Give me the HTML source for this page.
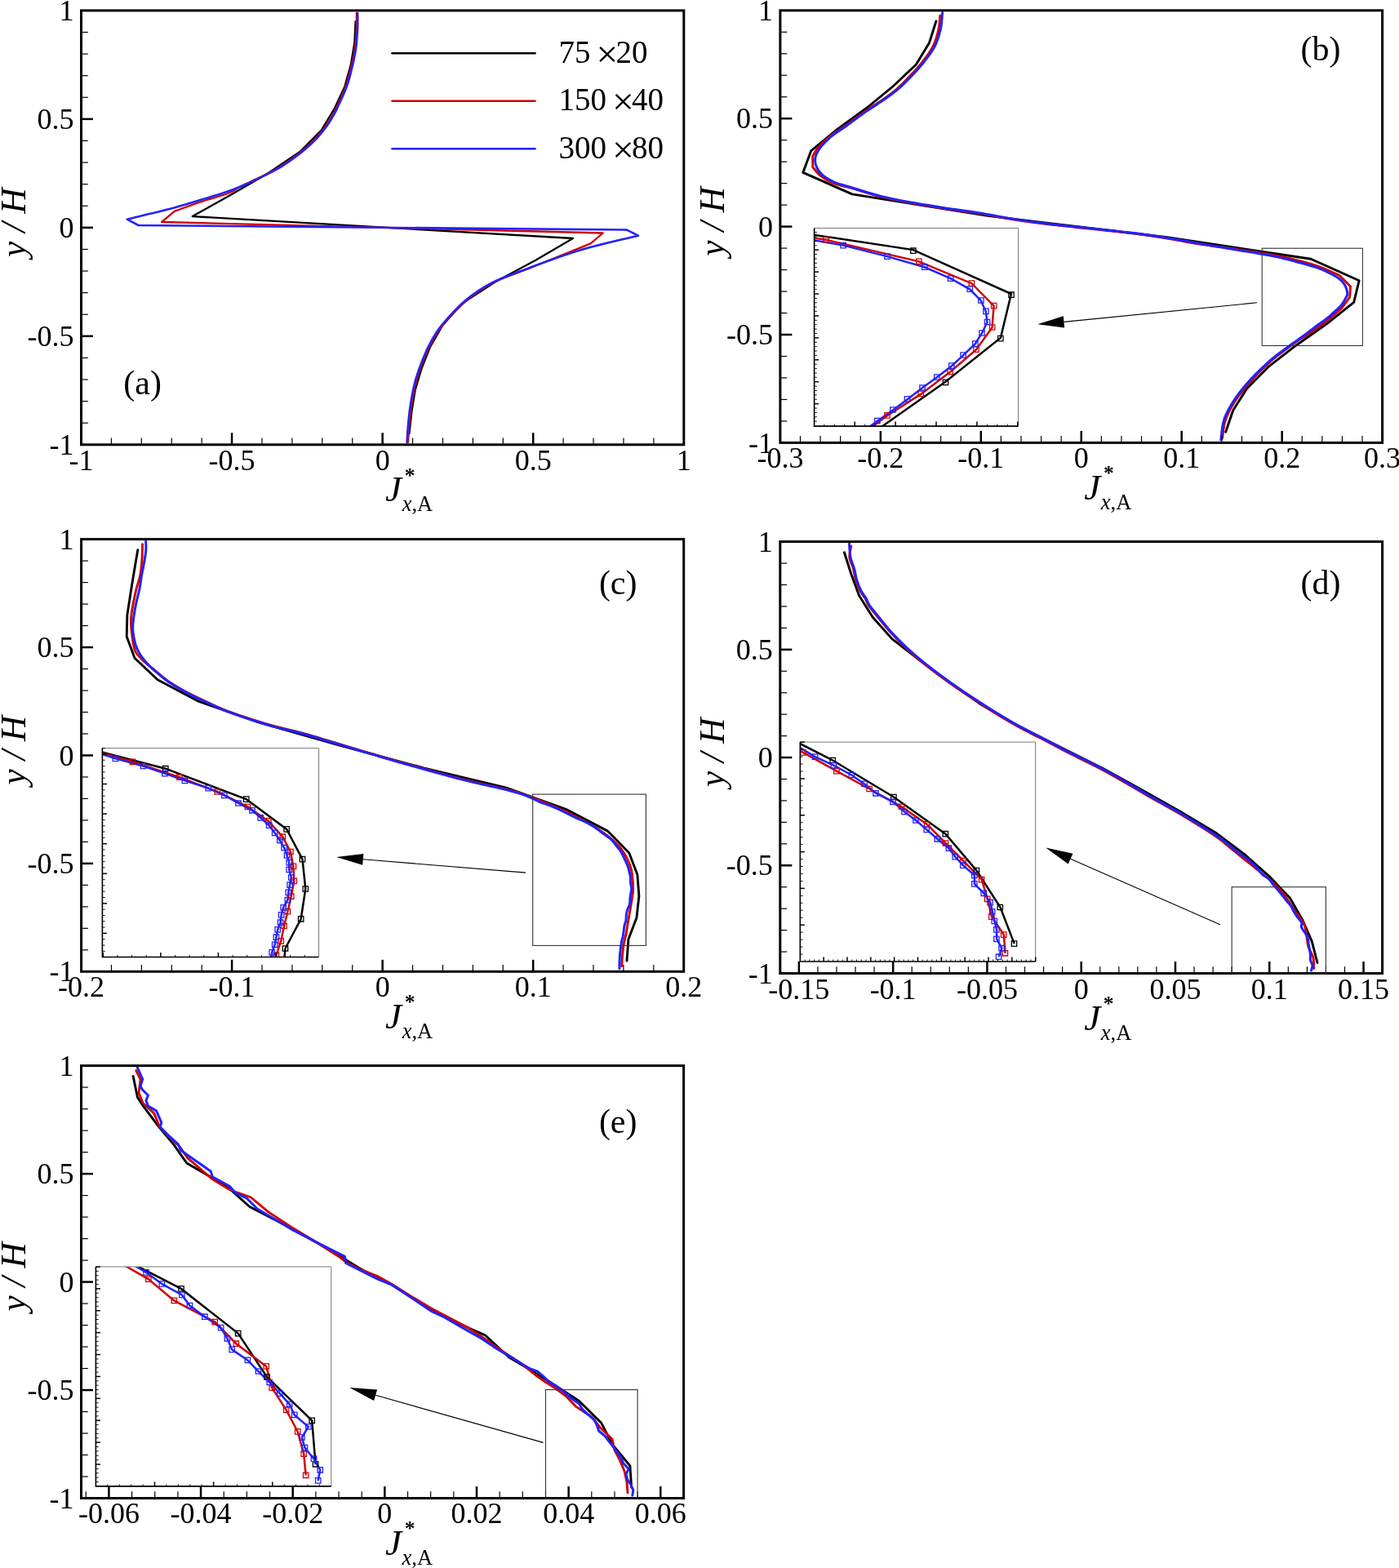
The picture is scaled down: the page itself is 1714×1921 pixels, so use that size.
<!DOCTYPE html><html><head><meta charset="utf-8"><title>Figure</title><style>html,body{margin:0;padding:0;background:#fff;}svg{display:block;}text{font-family:"Liberation Serif", "Times New Roman", serif;fill:#000;}</style></head><body>
<svg width="1714" height="1921" viewBox="0 0 1714 1921">
<rect width="1714" height="1921" fill="#fff"/>
<path d="M435.6,26.2 L434.3,52.8 L429.8,79.4 L422.4,105.9 L410.0,132.5 L394.0,159.2 L367.7,185.8 L328.0,212.4 L282.3,239.0 L235.8,265.1 L702.0,292.0 L656.3,318.7 L607.0,345.3 L566.0,371.9 L542.3,398.5 L527.0,425.1 L516.4,451.7 L508.6,478.3 L504.3,504.9 L501.4,531.5" fill="none" stroke="#000000" stroke-width="2.30" stroke-linejoin="round" stroke-linecap="round"/>
<path d="M436.9,16.0 C436.9,18.5 437.0,26.2 436.9,31.0 C436.8,35.8 436.5,40.3 436.2,45.0 C435.9,49.7 435.4,54.3 434.8,59.0 C434.2,63.7 433.3,68.3 432.3,73.0 C431.3,77.7 430.2,82.3 429.0,87.0 C427.8,91.7 426.6,96.7 425.2,101.0 C423.8,105.3 422.0,109.7 420.7,113.0 C419.4,116.3 418.4,118.3 417.2,121.0 C416.0,123.7 414.6,126.5 413.4,129.0 C412.2,131.6 412.3,132.4 410.1,136.3 C407.9,140.2 404.1,147.2 400.3,152.7 C396.5,158.1 392.6,163.3 387.2,169.0 C381.8,174.7 374.7,181.3 367.6,187.0 C360.5,192.7 352.6,198.4 344.7,203.3 C336.8,208.2 328.4,212.3 320.2,216.4 C312.0,220.5 302.3,224.5 295.7,227.8 C289.1,231.2 288.6,233.4 280.7,236.5 C272.8,239.6 259.2,242.9 248.0,246.6 C236.8,250.3 219.4,256.8 213.7,258.9 L198.2,272.0 L738.7,285.5 L723.6,298.4 C710.9,303.5 667.2,321.1 647.3,329.1 C627.4,337.1 616.7,339.9 604.1,346.4 C591.5,352.9 582.0,359.3 571.7,368.0 C561.4,376.7 549.3,390.3 542.4,398.5 C535.5,406.7 534.1,410.0 530.1,417.2 C526.1,424.4 522.0,433.3 518.6,441.9 C515.2,450.4 512.1,459.6 509.7,468.5 C507.3,477.4 505.8,486.1 504.4,495.0 C503.0,503.9 502.0,513.8 501.3,521.6 C500.6,529.4 500.2,538.6 500.0,542.0" fill="none" stroke="#d00000" stroke-width="2.30" stroke-linejoin="round" stroke-linecap="round"/>
<path d="M438.2,16.0 C438.2,18.5 438.3,26.2 438.2,31.0 C438.1,35.8 437.9,40.3 437.5,45.0 C437.1,49.7 436.8,54.3 436.1,59.0 C435.5,63.7 434.6,68.3 433.6,73.0 C432.6,77.7 431.5,82.3 430.3,87.0 C429.1,91.7 427.9,96.7 426.5,101.0 C425.1,105.3 423.3,109.7 422.0,113.0 C420.7,116.3 419.7,118.3 418.5,121.0 C417.3,123.7 415.9,126.5 414.7,129.0 C413.5,131.6 413.6,132.4 411.4,136.3 C409.2,140.2 405.4,147.2 401.6,152.7 C397.8,158.1 393.9,163.3 388.5,169.0 C383.1,174.7 376.0,181.3 368.9,187.0 C361.8,192.7 353.9,198.4 346.0,203.3 C338.1,208.2 329.7,212.3 321.5,216.4 C313.3,220.5 305.2,224.4 297.0,227.8 C288.8,231.2 280.7,234.1 272.5,236.8 C264.3,239.5 257.5,241.3 248.0,244.2 C238.5,247.1 226.2,251.0 215.3,254.0 C204.4,257.0 192.6,259.7 182.7,262.1 C172.8,264.6 160.2,267.6 155.7,268.7 L169.6,276.0 L767.9,281.6 L781.9,288.7 C770.0,291.6 733.4,299.7 710.7,306.4 C688.0,313.1 663.9,322.4 645.9,329.1 C627.9,335.8 615.3,339.9 602.7,346.4 C590.1,352.9 580.6,359.3 570.3,368.0 C560.0,376.7 547.9,390.3 541.0,398.5 C534.1,406.7 532.7,410.0 528.7,417.2 C524.7,424.4 520.6,433.3 517.2,441.9 C513.8,450.4 510.7,459.6 508.3,468.5 C505.9,477.4 504.4,486.1 503.0,495.0 C501.6,503.9 500.6,513.8 499.9,521.6 C499.2,529.4 498.8,538.6 498.6,542.0" fill="none" stroke="#2222ff" stroke-width="2.60" stroke-linejoin="round" stroke-linecap="round"/>
<line x1="136.41" y1="544.80" x2="136.41" y2="536.50" stroke="#000" stroke-width="1.2"/><line x1="173.33" y1="544.80" x2="173.33" y2="536.50" stroke="#000" stroke-width="1.2"/><line x1="210.25" y1="544.80" x2="210.25" y2="536.50" stroke="#000" stroke-width="1.2"/><line x1="247.16" y1="544.80" x2="247.16" y2="536.50" stroke="#000" stroke-width="1.2"/><line x1="284.07" y1="544.80" x2="284.07" y2="530.30" stroke="#000" stroke-width="2.5"/><line x1="320.99" y1="544.80" x2="320.99" y2="536.50" stroke="#000" stroke-width="1.2"/><line x1="357.91" y1="544.80" x2="357.91" y2="536.50" stroke="#000" stroke-width="1.2"/><line x1="394.82" y1="544.80" x2="394.82" y2="536.50" stroke="#000" stroke-width="1.2"/><line x1="431.74" y1="544.80" x2="431.74" y2="536.50" stroke="#000" stroke-width="1.2"/><line x1="468.65" y1="544.80" x2="468.65" y2="530.30" stroke="#000" stroke-width="2.5"/><line x1="505.56" y1="544.80" x2="505.56" y2="536.50" stroke="#000" stroke-width="1.2"/><line x1="542.48" y1="544.80" x2="542.48" y2="536.50" stroke="#000" stroke-width="1.2"/><line x1="579.39" y1="544.80" x2="579.39" y2="536.50" stroke="#000" stroke-width="1.2"/><line x1="616.31" y1="544.80" x2="616.31" y2="536.50" stroke="#000" stroke-width="1.2"/><line x1="653.22" y1="544.80" x2="653.22" y2="530.30" stroke="#000" stroke-width="2.5"/><line x1="690.14" y1="544.80" x2="690.14" y2="536.50" stroke="#000" stroke-width="1.2"/><line x1="727.06" y1="544.80" x2="727.06" y2="536.50" stroke="#000" stroke-width="1.2"/><line x1="763.97" y1="544.80" x2="763.97" y2="536.50" stroke="#000" stroke-width="1.2"/><line x1="800.88" y1="544.80" x2="800.88" y2="536.50" stroke="#000" stroke-width="1.2"/><line x1="99.50" y1="518.20" x2="107.80" y2="518.20" stroke="#000" stroke-width="1.2"/><line x1="99.50" y1="491.61" x2="107.80" y2="491.61" stroke="#000" stroke-width="1.2"/><line x1="99.50" y1="465.01" x2="107.80" y2="465.01" stroke="#000" stroke-width="1.2"/><line x1="99.50" y1="438.42" x2="107.80" y2="438.42" stroke="#000" stroke-width="1.2"/><line x1="99.50" y1="411.82" x2="114.00" y2="411.82" stroke="#000" stroke-width="2.5"/><line x1="99.50" y1="385.23" x2="107.80" y2="385.23" stroke="#000" stroke-width="1.2"/><line x1="99.50" y1="358.63" x2="107.80" y2="358.63" stroke="#000" stroke-width="1.2"/><line x1="99.50" y1="332.04" x2="107.80" y2="332.04" stroke="#000" stroke-width="1.2"/><line x1="99.50" y1="305.44" x2="107.80" y2="305.44" stroke="#000" stroke-width="1.2"/><line x1="99.50" y1="278.85" x2="114.00" y2="278.85" stroke="#000" stroke-width="2.5"/><line x1="99.50" y1="252.25" x2="107.80" y2="252.25" stroke="#000" stroke-width="1.2"/><line x1="99.50" y1="225.66" x2="107.80" y2="225.66" stroke="#000" stroke-width="1.2"/><line x1="99.50" y1="199.06" x2="107.80" y2="199.06" stroke="#000" stroke-width="1.2"/><line x1="99.50" y1="172.47" x2="107.80" y2="172.47" stroke="#000" stroke-width="1.2"/><line x1="99.50" y1="145.87" x2="114.00" y2="145.87" stroke="#000" stroke-width="2.5"/><line x1="99.50" y1="119.28" x2="107.80" y2="119.28" stroke="#000" stroke-width="1.2"/><line x1="99.50" y1="92.68" x2="107.80" y2="92.68" stroke="#000" stroke-width="1.2"/><line x1="99.50" y1="66.09" x2="107.80" y2="66.09" stroke="#000" stroke-width="1.2"/><line x1="99.50" y1="39.49" x2="107.80" y2="39.49" stroke="#000" stroke-width="1.2"/>
<rect x="99.50" y="12.90" width="738.30" height="531.90" fill="none" stroke="#000" stroke-width="3"/>
<text x="99.50" y="575.60" font-size="36" text-anchor="middle">-1</text>
<text x="284.07" y="575.60" font-size="36" text-anchor="middle">-0.5</text>
<text x="468.65" y="575.60" font-size="36" text-anchor="middle">0</text>
<text x="653.22" y="575.60" font-size="36" text-anchor="middle">0.5</text>
<text x="837.80" y="575.60" font-size="36" text-anchor="middle">1</text>
<text x="90.50" y="25.00" font-size="36" text-anchor="end">1</text>
<text x="90.50" y="157.97" font-size="36" text-anchor="end">0.5</text>
<text x="90.50" y="290.95" font-size="36" text-anchor="end">0</text>
<text x="90.50" y="423.92" font-size="36" text-anchor="end">-0.5</text>
<text x="90.50" y="556.90" font-size="36" text-anchor="end">-1</text>
<text x="472.10" y="614.20" font-size="45" font-style="italic">J</text>
<text x="495.80" y="590.70" font-size="25.5" font-weight="bold">*</text>
<text x="492.70" y="626.00" font-size="26.5"><tspan font-style="italic">x</tspan>,A</text>
<text transform="translate(30.90,314.90) rotate(-90)" font-size="43.5" font-style="italic">y / H</text>
<text x="151.30" y="482.80" font-size="42" text-anchor="start">(a)</text>
<path d="M1146.9,26.0 L1138.5,52.5 L1122.4,79.0 L1094.4,105.5 L1062.2,132.0 L1025.8,158.4 L993.6,184.9 L983.8,211.4 L1044.0,237.9 L1210.0,264.4 L1430.0,290.8 L1606.0,317.3 L1665.1,343.8 L1658.7,370.3 L1625.4,396.8 L1587.8,423.2 L1553.6,449.7 L1527.5,476.2 L1510.7,502.7 L1501.7,529.2" fill="none" stroke="#000000" stroke-width="2.90" stroke-linejoin="round" stroke-linecap="round"/>
<path d="M1151.8,19.1 C1151.5,21.8 1151.3,29.3 1150.0,35.2 C1148.7,41.2 1146.6,49.0 1144.0,54.8 C1141.4,60.6 1138.2,65.1 1134.5,70.2 C1130.8,75.3 1128.0,79.1 1122.0,85.6 C1116.0,92.1 1105.9,102.9 1098.5,109.4 C1091.1,115.9 1084.5,119.9 1077.5,124.8 C1070.5,129.7 1063.5,133.9 1056.5,138.8 C1049.5,143.7 1042.1,149.5 1035.5,154.2 C1028.9,158.9 1022.4,162.5 1017.0,166.8 C1011.6,171.1 1006.5,175.9 1003.0,180.0 C999.5,184.1 996.9,189.4 995.7,191.3 L995.7,204.6 C997.2,206.3 1000.8,211.7 1005.0,215.0 C1009.2,218.3 1015.2,222.1 1021.0,224.5 C1026.8,226.9 1030.6,226.9 1040.0,229.6 C1049.4,232.3 1064.8,237.4 1077.3,240.6 C1089.8,243.8 1102.2,246.2 1114.7,248.5 C1127.2,250.8 1137.8,252.4 1152.0,254.6 C1166.2,256.8 1180.9,258.6 1200.0,261.6 C1219.1,264.6 1233.4,268.3 1266.7,272.6 C1300.0,276.9 1365.5,283.0 1400.0,287.5 C1434.5,292.0 1447.9,295.6 1473.4,299.5 C1498.9,303.4 1530.5,307.1 1553.2,311.2 C1575.9,315.3 1594.7,319.9 1609.4,324.3 C1624.1,328.7 1635.9,335.3 1641.2,337.5 L1654.6,351.0 L1653.6,364.1 L1643.9,377.4 C1641.3,379.6 1633.8,386.4 1628.2,390.9 C1622.6,395.4 1616.8,399.8 1610.5,404.2 C1604.2,408.6 1597.0,412.6 1590.2,417.2 C1583.5,421.8 1576.2,427.2 1570.0,432.0 C1563.8,436.8 1559.5,439.9 1553.0,446.0 C1546.5,452.1 1537.8,460.8 1531.0,468.5 C1524.2,476.2 1517.5,484.8 1512.5,492.5 C1507.5,500.2 1503.8,507.6 1501.3,515.0 C1498.8,522.4 1498.2,533.3 1497.6,537.0" fill="none" stroke="#d00000" stroke-width="2.90" stroke-linejoin="round" stroke-linecap="round"/>
<path d="M1154.6,15.6 C1154.2,18.9 1153.9,28.7 1152.5,35.2 C1151.1,41.7 1148.9,49.0 1146.2,54.8 C1143.5,60.6 1140.1,65.1 1136.4,70.2 C1132.7,75.3 1129.9,79.1 1123.8,85.6 C1117.7,92.1 1107.5,102.9 1100.0,109.4 C1092.5,115.9 1086.0,119.9 1079.0,124.8 C1072.0,129.7 1065.0,133.9 1058.0,138.8 C1051.0,143.7 1043.5,149.5 1037.0,154.2 C1030.5,158.9 1023.9,162.6 1018.8,166.8 C1013.7,171.0 1009.5,175.2 1006.2,179.4 C1002.9,183.6 1000.2,188.0 999.2,192.0 C998.2,196.0 998.5,199.5 999.9,203.2 C1001.3,206.9 1003.8,211.0 1007.6,214.4 C1011.5,217.8 1017.6,221.1 1023.0,223.5 C1028.4,225.9 1031.0,226.0 1040.0,228.7 C1049.0,231.4 1064.8,236.7 1077.3,239.9 C1089.8,243.1 1102.2,245.5 1114.7,247.8 C1127.2,250.1 1137.8,251.7 1152.0,253.9 C1166.2,256.1 1180.9,257.9 1200.0,260.9 C1219.1,263.9 1233.4,267.7 1266.7,272.0 C1300.0,276.3 1365.5,282.4 1400.0,286.9 C1434.5,291.4 1451.7,295.3 1473.4,298.9 C1495.1,302.5 1515.0,306.0 1530.0,308.6 C1545.0,311.2 1553.7,312.5 1563.7,314.6 C1573.7,316.7 1582.0,319.0 1590.2,321.2 C1598.4,323.4 1606.4,325.5 1612.8,327.7 C1619.2,329.9 1624.0,332.3 1628.5,334.5 C1633.0,336.7 1637.0,338.8 1640.1,341.0 C1643.1,343.2 1645.2,345.6 1646.8,347.8 C1648.4,350.0 1649.2,352.2 1649.8,354.4 C1650.4,356.6 1651.0,358.7 1650.6,360.9 C1650.2,363.1 1648.6,365.3 1647.4,367.5 C1646.2,369.7 1645.2,371.8 1643.3,374.0 C1641.4,376.2 1638.5,378.6 1636.1,380.8 C1633.7,383.0 1631.8,385.1 1629.1,387.3 C1626.4,389.5 1623.2,391.9 1620.2,394.1 C1617.2,396.3 1614.4,398.3 1611.4,400.5 C1608.4,402.7 1605.3,405.2 1602.3,407.4 C1599.3,409.6 1596.6,411.6 1593.6,413.8 C1590.6,416.0 1588.6,417.3 1584.2,420.5 C1579.8,423.7 1572.4,428.8 1567.0,433.0 C1561.6,437.2 1558.1,439.7 1551.8,445.5 C1545.5,451.3 1536.2,460.1 1529.4,467.9 C1522.6,475.7 1515.7,484.4 1510.7,492.2 C1505.7,500.0 1502.0,506.8 1499.5,514.6 C1497.0,522.4 1496.4,534.9 1495.8,538.9" fill="none" stroke="#2222ff" stroke-width="3.00" stroke-linejoin="round" stroke-linecap="round"/>
<line x1="980.49" y1="542.40" x2="980.49" y2="534.10" stroke="#000" stroke-width="1.2"/><line x1="1005.08" y1="542.40" x2="1005.08" y2="534.10" stroke="#000" stroke-width="1.2"/><line x1="1029.67" y1="542.40" x2="1029.67" y2="534.10" stroke="#000" stroke-width="1.2"/><line x1="1054.26" y1="542.40" x2="1054.26" y2="534.10" stroke="#000" stroke-width="1.2"/><line x1="1078.85" y1="542.40" x2="1078.85" y2="527.90" stroke="#000" stroke-width="2.5"/><line x1="1103.44" y1="542.40" x2="1103.44" y2="534.10" stroke="#000" stroke-width="1.2"/><line x1="1128.03" y1="542.40" x2="1128.03" y2="534.10" stroke="#000" stroke-width="1.2"/><line x1="1152.62" y1="542.40" x2="1152.62" y2="534.10" stroke="#000" stroke-width="1.2"/><line x1="1177.21" y1="542.40" x2="1177.21" y2="534.10" stroke="#000" stroke-width="1.2"/><line x1="1201.80" y1="542.40" x2="1201.80" y2="527.90" stroke="#000" stroke-width="2.5"/><line x1="1226.39" y1="542.40" x2="1226.39" y2="534.10" stroke="#000" stroke-width="1.2"/><line x1="1250.98" y1="542.40" x2="1250.98" y2="534.10" stroke="#000" stroke-width="1.2"/><line x1="1275.57" y1="542.40" x2="1275.57" y2="534.10" stroke="#000" stroke-width="1.2"/><line x1="1300.16" y1="542.40" x2="1300.16" y2="534.10" stroke="#000" stroke-width="1.2"/><line x1="1324.75" y1="542.40" x2="1324.75" y2="527.90" stroke="#000" stroke-width="2.5"/><line x1="1349.34" y1="542.40" x2="1349.34" y2="534.10" stroke="#000" stroke-width="1.2"/><line x1="1373.93" y1="542.40" x2="1373.93" y2="534.10" stroke="#000" stroke-width="1.2"/><line x1="1398.52" y1="542.40" x2="1398.52" y2="534.10" stroke="#000" stroke-width="1.2"/><line x1="1423.11" y1="542.40" x2="1423.11" y2="534.10" stroke="#000" stroke-width="1.2"/><line x1="1447.70" y1="542.40" x2="1447.70" y2="527.90" stroke="#000" stroke-width="2.5"/><line x1="1472.29" y1="542.40" x2="1472.29" y2="534.10" stroke="#000" stroke-width="1.2"/><line x1="1496.88" y1="542.40" x2="1496.88" y2="534.10" stroke="#000" stroke-width="1.2"/><line x1="1521.47" y1="542.40" x2="1521.47" y2="534.10" stroke="#000" stroke-width="1.2"/><line x1="1546.06" y1="542.40" x2="1546.06" y2="534.10" stroke="#000" stroke-width="1.2"/><line x1="1570.65" y1="542.40" x2="1570.65" y2="527.90" stroke="#000" stroke-width="2.5"/><line x1="1595.24" y1="542.40" x2="1595.24" y2="534.10" stroke="#000" stroke-width="1.2"/><line x1="1619.83" y1="542.40" x2="1619.83" y2="534.10" stroke="#000" stroke-width="1.2"/><line x1="1644.42" y1="542.40" x2="1644.42" y2="534.10" stroke="#000" stroke-width="1.2"/><line x1="1669.01" y1="542.40" x2="1669.01" y2="534.10" stroke="#000" stroke-width="1.2"/><line x1="955.90" y1="515.92" x2="964.20" y2="515.92" stroke="#000" stroke-width="1.2"/><line x1="955.90" y1="489.44" x2="964.20" y2="489.44" stroke="#000" stroke-width="1.2"/><line x1="955.90" y1="462.96" x2="964.20" y2="462.96" stroke="#000" stroke-width="1.2"/><line x1="955.90" y1="436.48" x2="964.20" y2="436.48" stroke="#000" stroke-width="1.2"/><line x1="955.90" y1="410.00" x2="970.40" y2="410.00" stroke="#000" stroke-width="2.5"/><line x1="955.90" y1="383.52" x2="964.20" y2="383.52" stroke="#000" stroke-width="1.2"/><line x1="955.90" y1="357.04" x2="964.20" y2="357.04" stroke="#000" stroke-width="1.2"/><line x1="955.90" y1="330.56" x2="964.20" y2="330.56" stroke="#000" stroke-width="1.2"/><line x1="955.90" y1="304.08" x2="964.20" y2="304.08" stroke="#000" stroke-width="1.2"/><line x1="955.90" y1="277.60" x2="970.40" y2="277.60" stroke="#000" stroke-width="2.5"/><line x1="955.90" y1="251.12" x2="964.20" y2="251.12" stroke="#000" stroke-width="1.2"/><line x1="955.90" y1="224.64" x2="964.20" y2="224.64" stroke="#000" stroke-width="1.2"/><line x1="955.90" y1="198.16" x2="964.20" y2="198.16" stroke="#000" stroke-width="1.2"/><line x1="955.90" y1="171.68" x2="964.20" y2="171.68" stroke="#000" stroke-width="1.2"/><line x1="955.90" y1="145.20" x2="970.40" y2="145.20" stroke="#000" stroke-width="2.5"/><line x1="955.90" y1="118.72" x2="964.20" y2="118.72" stroke="#000" stroke-width="1.2"/><line x1="955.90" y1="92.24" x2="964.20" y2="92.24" stroke="#000" stroke-width="1.2"/><line x1="955.90" y1="65.76" x2="964.20" y2="65.76" stroke="#000" stroke-width="1.2"/><line x1="955.90" y1="39.28" x2="964.20" y2="39.28" stroke="#000" stroke-width="1.2"/>
<rect x="955.90" y="12.80" width="737.70" height="529.60" fill="none" stroke="#000" stroke-width="3"/>
<rect x="1546.20" y="304.20" width="123.20" height="119.30" fill="none" stroke="#333" stroke-width="1.10"/>
<line x1="1540.0" y1="370.8" x2="1303.5" y2="394.4" stroke="#000" stroke-width="1.1"/>
<path d="M1271.3,397.3 L1302.9,387.2 L1304.1,401.6 Z" fill="#000"/>
<clipPath id="clip_b"><rect x="997.60" y="279.50" width="250.00" height="242.60"/></clipPath>
<rect x="997.60" y="279.50" width="250.00" height="242.60" fill="#fff"/>
<g clip-path="url(#clip_b)">
<path d="M187.3,-286.2 L170.3,-232.3 L137.6,-178.5 L80.8,-124.6 L15.5,-70.7 L-58.4,-17.0 L-123.7,36.9 L-143.6,90.8 L-21.5,144.7 L315.4,198.6 L761.8,252.3 L1118.8,306.1 L1238.9,360.0 L1225.9,413.9 L1158.3,467.8 L1082.0,521.5 L1012.6,575.4 L959.7,629.3 L925.6,683.2 L907.3,737.0" fill="none" stroke="#000000" stroke-width="2.50" stroke-linejoin="miter"/>
<path d="M197.7,178.6 L295.1,192.9 L430.4,215.2 L700.9,245.5 L849.9,269.9 L1011.8,293.7 L1125.8,320.4 L1190.4,347.2 L1217.6,374.7 L1215.5,401.3 L1195.9,428.4 L1164.0,455.8 L1128.1,482.9 L1086.9,509.3 L1045.9,539.4 L1011.4,567.9 L966.8,613.6 L929.2,662.4 L906.5,708.2 L899.0,752.9" fill="none" stroke="#d00000" stroke-width="2.50" stroke-linejoin="miter"/>
<path d="M197.7,177.2 L295.1,191.4 L430.4,214.0 L700.9,244.3 L849.9,268.7 L964.7,288.4 L1033.1,300.6 L1086.9,314.1 L1132.7,327.3 L1164.6,341.1 L1188.1,354.3 L1201.7,368.2 L1207.8,381.6 L1209.5,394.8 L1203.0,408.2 L1194.6,421.4 L1180.0,435.3 L1165.8,448.5 L1147.8,462.3 L1129.9,475.3 L1111.4,489.4 L1093.8,502.4 L1074.7,516.0 L1039.8,541.4 L1009.0,566.8 L963.5,612.4 L925.6,661.8 L902.8,707.4 L895.3,756.8" fill="none" stroke="#2222ff" stroke-width="2.50" stroke-linejoin="miter"/>
<path d="M1115.7,304.0h6.4v6.4h-6.4Z M1235.8,358.0h6.4v6.4h-6.4Z M1222.7,411.4h6.4v6.4h-6.4Z M1155.2,465.3h6.4v6.4h-6.4Z" fill="none" stroke="#000000" stroke-width="1.3"/>
<path d="M1008.7,290.5h6.4v6.4h-6.4Z M1122.7,317.1h6.4v6.4h-6.4Z M1187.2,343.9h6.4v6.4h-6.4Z M1214.5,371.4h6.4v6.4h-6.4Z M1212.4,397.8h6.4v6.4h-6.4Z M1192.8,424.9h6.4v6.4h-6.4Z M1160.9,452.3h6.4v6.4h-6.4Z M1125.0,479.2h6.4v6.4h-6.4Z M1083.8,505.7h6.4v6.4h-6.4Z" fill="none" stroke="#d00000" stroke-width="1.3"/>
<path d="M1029.9,297.5h6.4v6.4h-6.4Z M1083.8,310.9h6.4v6.4h-6.4Z M1129.6,324.0h6.4v6.4h-6.4Z M1161.4,337.9h6.4v6.4h-6.4Z M1185.1,350.9h6.4v6.4h-6.4Z M1198.7,364.8h6.4v6.4h-6.4Z M1204.7,378.2h6.4v6.4h-6.4Z M1206.3,391.3h6.4v6.4h-6.4Z M1199.8,404.8h6.4v6.4h-6.4Z M1191.6,417.9h6.4v6.4h-6.4Z M1176.9,431.8h6.4v6.4h-6.4Z M1162.6,444.9h6.4v6.4h-6.4Z M1144.6,458.8h6.4v6.4h-6.4Z M1126.8,471.8h6.4v6.4h-6.4Z M1108.3,485.7h6.4v6.4h-6.4Z M1090.7,498.8h6.4v6.4h-6.4Z M1071.6,512.4h6.4v6.4h-6.4Z" fill="none" stroke="#2222ff" stroke-width="1.3"/>
</g>
<path d="M997.60,279.50 H1247.60 V522.10" fill="none" stroke="#777" stroke-width="1"/>
<line x1="1009.79" y1="522.10" x2="1009.79" y2="519.50" stroke="#000" stroke-width="0.90"/><line x1="1022.27" y1="522.10" x2="1022.27" y2="519.50" stroke="#000" stroke-width="0.90"/><line x1="1034.74" y1="522.10" x2="1034.74" y2="519.50" stroke="#000" stroke-width="0.90"/><line x1="1047.21" y1="522.10" x2="1047.21" y2="516.60" stroke="#000" stroke-width="1.50"/><line x1="1059.69" y1="522.10" x2="1059.69" y2="519.50" stroke="#000" stroke-width="0.90"/><line x1="1072.16" y1="522.10" x2="1072.16" y2="519.50" stroke="#000" stroke-width="0.90"/><line x1="1084.64" y1="522.10" x2="1084.64" y2="519.50" stroke="#000" stroke-width="0.90"/><line x1="1097.11" y1="522.10" x2="1097.11" y2="516.60" stroke="#000" stroke-width="1.50"/><line x1="1109.59" y1="522.10" x2="1109.59" y2="519.50" stroke="#000" stroke-width="0.90"/><line x1="1122.06" y1="522.10" x2="1122.06" y2="519.50" stroke="#000" stroke-width="0.90"/><line x1="1134.54" y1="522.10" x2="1134.54" y2="519.50" stroke="#000" stroke-width="0.90"/><line x1="1147.01" y1="522.10" x2="1147.01" y2="516.60" stroke="#000" stroke-width="1.50"/><line x1="1159.49" y1="522.10" x2="1159.49" y2="519.50" stroke="#000" stroke-width="0.90"/><line x1="1171.96" y1="522.10" x2="1171.96" y2="519.50" stroke="#000" stroke-width="0.90"/><line x1="1184.44" y1="522.10" x2="1184.44" y2="519.50" stroke="#000" stroke-width="0.90"/><line x1="1196.91" y1="522.10" x2="1196.91" y2="516.60" stroke="#000" stroke-width="1.50"/><line x1="1209.38" y1="522.10" x2="1209.38" y2="519.50" stroke="#000" stroke-width="0.90"/><line x1="1221.86" y1="522.10" x2="1221.86" y2="519.50" stroke="#000" stroke-width="0.90"/><line x1="1234.33" y1="522.10" x2="1234.33" y2="519.50" stroke="#000" stroke-width="0.90"/><line x1="1246.81" y1="522.10" x2="1246.81" y2="516.60" stroke="#000" stroke-width="1.50"/><line x1="997.60" y1="516.19" x2="1000.90" y2="516.19" stroke="#000" stroke-width="0.90"/><line x1="997.60" y1="510.80" x2="1000.90" y2="510.80" stroke="#000" stroke-width="0.90"/><line x1="997.60" y1="505.42" x2="1000.90" y2="505.42" stroke="#000" stroke-width="0.90"/><line x1="997.60" y1="500.03" x2="1000.90" y2="500.03" stroke="#000" stroke-width="0.90"/><line x1="997.60" y1="494.65" x2="1003.10" y2="494.65" stroke="#000" stroke-width="1.50"/><line x1="997.60" y1="489.26" x2="1000.90" y2="489.26" stroke="#000" stroke-width="0.90"/><line x1="997.60" y1="483.88" x2="1000.90" y2="483.88" stroke="#000" stroke-width="0.90"/><line x1="997.60" y1="478.49" x2="1000.90" y2="478.49" stroke="#000" stroke-width="0.90"/><line x1="997.60" y1="473.11" x2="1000.90" y2="473.11" stroke="#000" stroke-width="0.90"/><line x1="997.60" y1="467.72" x2="1003.10" y2="467.72" stroke="#000" stroke-width="1.50"/><line x1="997.60" y1="462.34" x2="1000.90" y2="462.34" stroke="#000" stroke-width="0.90"/><line x1="997.60" y1="456.95" x2="1000.90" y2="456.95" stroke="#000" stroke-width="0.90"/><line x1="997.60" y1="451.57" x2="1000.90" y2="451.57" stroke="#000" stroke-width="0.90"/><line x1="997.60" y1="446.18" x2="1000.90" y2="446.18" stroke="#000" stroke-width="0.90"/><line x1="997.60" y1="440.80" x2="1003.10" y2="440.80" stroke="#000" stroke-width="1.50"/><line x1="997.60" y1="435.41" x2="1000.90" y2="435.41" stroke="#000" stroke-width="0.90"/><line x1="997.60" y1="430.03" x2="1000.90" y2="430.03" stroke="#000" stroke-width="0.90"/><line x1="997.60" y1="424.65" x2="1000.90" y2="424.65" stroke="#000" stroke-width="0.90"/><line x1="997.60" y1="419.26" x2="1000.90" y2="419.26" stroke="#000" stroke-width="0.90"/><line x1="997.60" y1="413.88" x2="1003.10" y2="413.88" stroke="#000" stroke-width="1.50"/><line x1="997.60" y1="408.49" x2="1000.90" y2="408.49" stroke="#000" stroke-width="0.90"/><line x1="997.60" y1="403.11" x2="1000.90" y2="403.11" stroke="#000" stroke-width="0.90"/><line x1="997.60" y1="397.72" x2="1000.90" y2="397.72" stroke="#000" stroke-width="0.90"/><line x1="997.60" y1="392.34" x2="1000.90" y2="392.34" stroke="#000" stroke-width="0.90"/><line x1="997.60" y1="386.95" x2="1003.10" y2="386.95" stroke="#000" stroke-width="1.50"/><line x1="997.60" y1="381.57" x2="1000.90" y2="381.57" stroke="#000" stroke-width="0.90"/><line x1="997.60" y1="376.18" x2="1000.90" y2="376.18" stroke="#000" stroke-width="0.90"/><line x1="997.60" y1="370.80" x2="1000.90" y2="370.80" stroke="#000" stroke-width="0.90"/><line x1="997.60" y1="365.41" x2="1000.90" y2="365.41" stroke="#000" stroke-width="0.90"/><line x1="997.60" y1="360.03" x2="1003.10" y2="360.03" stroke="#000" stroke-width="1.50"/><line x1="997.60" y1="354.64" x2="1000.90" y2="354.64" stroke="#000" stroke-width="0.90"/><line x1="997.60" y1="349.26" x2="1000.90" y2="349.26" stroke="#000" stroke-width="0.90"/><line x1="997.60" y1="343.87" x2="1000.90" y2="343.87" stroke="#000" stroke-width="0.90"/><line x1="997.60" y1="338.49" x2="1000.90" y2="338.49" stroke="#000" stroke-width="0.90"/><line x1="997.60" y1="333.10" x2="1003.10" y2="333.10" stroke="#000" stroke-width="1.50"/><line x1="997.60" y1="327.72" x2="1000.90" y2="327.72" stroke="#000" stroke-width="0.90"/><line x1="997.60" y1="322.33" x2="1000.90" y2="322.33" stroke="#000" stroke-width="0.90"/><line x1="997.60" y1="316.95" x2="1000.90" y2="316.95" stroke="#000" stroke-width="0.90"/><line x1="997.60" y1="311.56" x2="1000.90" y2="311.56" stroke="#000" stroke-width="0.90"/><line x1="997.60" y1="306.18" x2="1003.10" y2="306.18" stroke="#000" stroke-width="1.50"/><line x1="997.60" y1="300.80" x2="1000.90" y2="300.80" stroke="#000" stroke-width="0.90"/><line x1="997.60" y1="295.41" x2="1000.90" y2="295.41" stroke="#000" stroke-width="0.90"/><line x1="997.60" y1="290.03" x2="1000.90" y2="290.03" stroke="#000" stroke-width="0.90"/><line x1="997.60" y1="284.64" x2="1000.90" y2="284.64" stroke="#000" stroke-width="0.90"/>
<path d="M997.60,279.50 V522.10 H1247.60" fill="none" stroke="#000" stroke-width="1.6"/>
<text x="955.90" y="573.40" font-size="36" text-anchor="middle">-0.3</text>
<text x="1078.85" y="573.40" font-size="36" text-anchor="middle">-0.2</text>
<text x="1201.80" y="573.40" font-size="36" text-anchor="middle">-0.1</text>
<text x="1324.75" y="573.40" font-size="36" text-anchor="middle">0</text>
<text x="1447.70" y="573.40" font-size="36" text-anchor="middle">0.1</text>
<text x="1570.65" y="573.40" font-size="36" text-anchor="middle">0.2</text>
<text x="1693.60" y="573.40" font-size="36" text-anchor="middle">0.3</text>
<text x="946.90" y="24.90" font-size="36" text-anchor="end">1</text>
<text x="946.90" y="157.30" font-size="36" text-anchor="end">0.5</text>
<text x="946.90" y="289.70" font-size="36" text-anchor="end">0</text>
<text x="946.90" y="422.10" font-size="36" text-anchor="end">-0.5</text>
<text x="946.90" y="554.50" font-size="36" text-anchor="end">-1</text>
<text x="1328.20" y="611.80" font-size="45" font-style="italic">J</text>
<text x="1351.90" y="588.30" font-size="25.5" font-weight="bold">*</text>
<text x="1348.80" y="623.60" font-size="26.5"><tspan font-style="italic">x</tspan>,A</text>
<text transform="translate(887.30,313.65) rotate(-90)" font-size="43.5" font-style="italic">y / H</text>
<text x="1642.40" y="73.90" font-size="42" text-anchor="end">(b)</text>
<path d="M168.8,673.8 L164.3,700.3 L160.0,726.8 L155.9,753.3 L155.2,779.8 L165.0,806.3 L193.1,832.7 L243.2,859.2 L319.0,885.7 L416.0,913.2 L519.0,940.8 L620.3,965.2 L693.2,991.3 L744.9,1018.4 L770.8,1045.0 L780.9,1071.6 L782.9,1097.9 L779.9,1124.6 L769.9,1150.8 L768.0,1177.1" fill="none" stroke="#000000" stroke-width="2.90" stroke-linejoin="round" stroke-linecap="round"/>
<path d="M174.6,666.8 C174.5,669.5 174.5,676.6 174.1,682.8 C173.7,689.0 173.2,697.2 171.9,704.0 C170.6,710.8 168.3,715.9 166.5,723.7 C164.7,731.5 162.2,744.4 161.2,751.0 C160.2,757.6 160.4,758.4 160.5,763.2 C160.6,768.0 161.1,774.0 162.0,779.8 C162.9,785.6 163.4,792.9 165.8,798.0 C168.2,803.1 172.6,806.5 176.4,810.2 C180.2,813.9 183.7,816.2 188.5,820.2 C193.3,824.1 199.1,829.6 205.2,833.9 C211.3,838.2 218.2,842.2 225.0,846.0 C231.8,849.8 237.6,852.6 246.2,856.6 C254.8,860.6 266.4,866.2 276.5,870.3 C286.6,874.3 296.8,877.6 306.9,880.9 C317.0,884.2 325.8,886.9 337.2,890.0 C348.6,893.1 353.6,893.3 375.1,899.4 C396.6,905.5 435.1,917.6 466.3,926.6 C497.5,935.6 536.8,946.8 562.5,953.5 C588.2,960.2 606.5,963.5 620.3,967.0 C634.0,970.5 636.4,971.4 645.0,974.4 C653.6,977.4 662.6,981.1 672.1,985.2 C681.6,989.3 693.1,994.4 702.1,998.9 C711.2,1003.3 719.1,1007.4 726.4,1011.8 C733.7,1016.1 740.3,1020.8 745.8,1025.1 C751.2,1029.4 755.3,1033.3 759.1,1037.8 C762.8,1042.2 765.9,1047.2 768.2,1051.7 C770.6,1056.3 772.1,1060.6 773.3,1065.0 C774.4,1069.4 774.7,1073.6 775.1,1078.0 C775.5,1082.3 775.8,1086.6 775.6,1091.0 C775.3,1095.4 774.4,1100.0 773.7,1104.5 C773.0,1109.0 772.2,1113.6 771.4,1118.0 C770.7,1122.4 769.9,1126.5 769.2,1130.9 C768.5,1135.3 768.0,1139.9 767.1,1144.2 C766.3,1148.5 764.9,1152.2 764.1,1156.9 C763.3,1161.6 762.8,1167.9 762.4,1172.4 C762.0,1176.9 761.9,1181.7 761.8,1183.6" fill="none" stroke="#d00000" stroke-width="2.90" stroke-linejoin="round" stroke-linecap="round"/>
<path d="M178.7,663.0 C178.7,665.0 179.1,670.7 178.7,675.2 C178.3,679.8 177.3,685.2 176.4,690.3 C175.5,695.3 174.3,700.4 173.4,705.5 C172.5,710.6 172.2,714.9 171.1,720.7 C169.9,726.5 167.8,734.1 166.5,740.4 C165.2,746.7 164.1,753.3 163.5,758.6 C162.9,763.9 162.4,767.2 162.8,772.3 C163.2,777.4 164.6,784.5 165.8,789.0 C167.1,793.5 168.3,796.1 170.3,799.6 C172.3,803.1 174.9,806.7 177.9,810.2 C180.9,813.7 183.9,816.8 188.5,820.8 C193.1,824.8 199.1,830.2 205.2,834.5 C211.3,838.8 218.2,842.8 225.0,846.6 C231.8,850.4 237.6,853.2 246.2,857.2 C254.8,861.2 266.4,866.9 276.5,870.9 C286.6,874.9 296.8,878.2 306.9,881.5 C317.0,884.8 325.8,887.5 337.2,890.6 C348.6,893.7 353.6,893.9 375.1,900.0 C396.6,906.1 435.1,918.2 466.3,927.2 C497.5,936.2 536.8,947.4 562.5,954.1 C588.2,960.8 606.5,964.1 620.3,967.6 C634.0,971.1 638.2,972.5 645.0,975.0 C651.8,977.5 655.5,980.0 661.1,982.4 C666.8,984.7 673.7,986.8 679.0,989.0 C684.2,991.2 688.3,993.4 692.7,995.5 C697.1,997.7 700.9,999.7 705.5,1001.9 C710.2,1004.1 716.4,1006.4 720.6,1008.6 C724.9,1010.8 727.7,1012.7 730.9,1015.0 C734.1,1017.2 736.9,1019.7 739.8,1021.9 C742.8,1024.1 746.4,1026.1 748.7,1028.3 C751.1,1030.4 752.3,1032.6 754.1,1034.9 C755.9,1037.1 758.0,1039.4 759.6,1041.6 C761.1,1043.8 762.1,1046.1 763.2,1048.3 C764.4,1050.5 765.4,1052.7 766.4,1054.9 C767.4,1057.0 768.4,1059.2 769.2,1061.4 C769.9,1063.7 770.5,1066.0 771.0,1068.2 C771.5,1070.4 772.1,1072.4 772.4,1074.5 C772.6,1076.7 772.1,1078.6 772.4,1080.8 C772.6,1083.1 773.6,1085.5 773.7,1087.8 C773.8,1090.1 773.1,1092.2 772.8,1094.4 C772.5,1096.6 772.1,1098.9 771.9,1101.1 C771.7,1103.4 772.0,1105.6 771.4,1107.9 C770.9,1110.1 769.4,1112.3 768.7,1114.4 C768.0,1116.6 767.6,1118.8 767.3,1121.0 C767.0,1123.3 767.3,1125.6 766.9,1127.8 C766.5,1129.9 765.5,1131.9 765.0,1134.1 C764.6,1136.2 764.4,1138.6 764.1,1140.8 C763.8,1143.0 763.7,1145.1 763.2,1147.4 C762.8,1149.7 762.0,1150.2 761.4,1154.3 C760.7,1158.5 759.7,1167.0 759.3,1172.4 C758.9,1177.8 759.0,1184.3 758.9,1186.7" fill="none" stroke="#2222ff" stroke-width="3.00" stroke-linejoin="round" stroke-linecap="round"/>
<line x1="136.50" y1="1190.30" x2="136.50" y2="1182.00" stroke="#000" stroke-width="1.2"/><line x1="173.41" y1="1190.30" x2="173.41" y2="1182.00" stroke="#000" stroke-width="1.2"/><line x1="210.31" y1="1190.30" x2="210.31" y2="1182.00" stroke="#000" stroke-width="1.2"/><line x1="247.22" y1="1190.30" x2="247.22" y2="1182.00" stroke="#000" stroke-width="1.2"/><line x1="284.12" y1="1190.30" x2="284.12" y2="1175.80" stroke="#000" stroke-width="2.5"/><line x1="321.03" y1="1190.30" x2="321.03" y2="1182.00" stroke="#000" stroke-width="1.2"/><line x1="357.94" y1="1190.30" x2="357.94" y2="1182.00" stroke="#000" stroke-width="1.2"/><line x1="394.84" y1="1190.30" x2="394.84" y2="1182.00" stroke="#000" stroke-width="1.2"/><line x1="431.74" y1="1190.30" x2="431.74" y2="1182.00" stroke="#000" stroke-width="1.2"/><line x1="468.65" y1="1190.30" x2="468.65" y2="1175.80" stroke="#000" stroke-width="2.5"/><line x1="505.55" y1="1190.30" x2="505.55" y2="1182.00" stroke="#000" stroke-width="1.2"/><line x1="542.46" y1="1190.30" x2="542.46" y2="1182.00" stroke="#000" stroke-width="1.2"/><line x1="579.37" y1="1190.30" x2="579.37" y2="1182.00" stroke="#000" stroke-width="1.2"/><line x1="616.27" y1="1190.30" x2="616.27" y2="1182.00" stroke="#000" stroke-width="1.2"/><line x1="653.17" y1="1190.30" x2="653.17" y2="1175.80" stroke="#000" stroke-width="2.5"/><line x1="690.08" y1="1190.30" x2="690.08" y2="1182.00" stroke="#000" stroke-width="1.2"/><line x1="726.99" y1="1190.30" x2="726.99" y2="1182.00" stroke="#000" stroke-width="1.2"/><line x1="763.89" y1="1190.30" x2="763.89" y2="1182.00" stroke="#000" stroke-width="1.2"/><line x1="800.79" y1="1190.30" x2="800.79" y2="1182.00" stroke="#000" stroke-width="1.2"/><line x1="99.60" y1="1163.82" x2="107.90" y2="1163.82" stroke="#000" stroke-width="1.2"/><line x1="99.60" y1="1137.33" x2="107.90" y2="1137.33" stroke="#000" stroke-width="1.2"/><line x1="99.60" y1="1110.85" x2="107.90" y2="1110.85" stroke="#000" stroke-width="1.2"/><line x1="99.60" y1="1084.36" x2="107.90" y2="1084.36" stroke="#000" stroke-width="1.2"/><line x1="99.60" y1="1057.88" x2="114.10" y2="1057.88" stroke="#000" stroke-width="2.5"/><line x1="99.60" y1="1031.39" x2="107.90" y2="1031.39" stroke="#000" stroke-width="1.2"/><line x1="99.60" y1="1004.90" x2="107.90" y2="1004.90" stroke="#000" stroke-width="1.2"/><line x1="99.60" y1="978.42" x2="107.90" y2="978.42" stroke="#000" stroke-width="1.2"/><line x1="99.60" y1="951.94" x2="107.90" y2="951.94" stroke="#000" stroke-width="1.2"/><line x1="99.60" y1="925.45" x2="114.10" y2="925.45" stroke="#000" stroke-width="2.5"/><line x1="99.60" y1="898.97" x2="107.90" y2="898.97" stroke="#000" stroke-width="1.2"/><line x1="99.60" y1="872.48" x2="107.90" y2="872.48" stroke="#000" stroke-width="1.2"/><line x1="99.60" y1="846.00" x2="107.90" y2="846.00" stroke="#000" stroke-width="1.2"/><line x1="99.60" y1="819.51" x2="107.90" y2="819.51" stroke="#000" stroke-width="1.2"/><line x1="99.60" y1="793.03" x2="114.10" y2="793.03" stroke="#000" stroke-width="2.5"/><line x1="99.60" y1="766.54" x2="107.90" y2="766.54" stroke="#000" stroke-width="1.2"/><line x1="99.60" y1="740.06" x2="107.90" y2="740.06" stroke="#000" stroke-width="1.2"/><line x1="99.60" y1="713.57" x2="107.90" y2="713.57" stroke="#000" stroke-width="1.2"/><line x1="99.60" y1="687.09" x2="107.90" y2="687.09" stroke="#000" stroke-width="1.2"/>
<rect x="99.60" y="660.60" width="738.10" height="529.70" fill="none" stroke="#000" stroke-width="3"/>
<rect x="652.70" y="973.10" width="138.70" height="185.30" fill="none" stroke="#333" stroke-width="1.10"/>
<line x1="644.2" y1="1069.1" x2="444.8" y2="1052.8" stroke="#000" stroke-width="1.1"/>
<path d="M412.1,1050.0 L445.4,1045.9 L444.2,1059.7 Z" fill="#000"/>
<clipPath id="clip_c"><rect x="125.40" y="916.60" width="265.20" height="255.90"/></clipPath>
<rect x="125.40" y="916.60" width="265.20" height="255.90" fill="#fff"/>
<g clip-path="url(#clip_c)">
<path d="M-799.8,503.3 L-808.4,539.9 L-816.7,576.5 L-824.5,613.1 L-825.8,649.7 L-807.1,686.2 L-753.4,722.7 L-657.6,759.3 L-512.6,795.9 L-327.2,833.9 L-130.2,872.0 L63.4,905.7 L202.8,941.7 L301.7,979.1 L351.2,1015.9 L370.5,1052.6 L374.3,1089.0 L368.7,1125.8 L349.5,1162.0 L345.9,1198.3" fill="none" stroke="#000000" stroke-width="2.50" stroke-linejoin="miter"/>
<path d="M-788.7,493.6 L-789.7,515.7 L-793.9,545.0 L-804.2,572.2 L-814.4,609.9 L-815.7,626.7 L-812.8,649.7 L-805.6,674.8 L-785.3,691.6 L-762.2,705.4 L-730.2,724.4 L-692.4,741.1 L-651.8,755.7 L-593.9,774.6 L-535.8,789.3 L-477.8,801.8 L-405.4,814.8 L-231.0,852.4 L-47.1,889.5 L63.4,908.2 L110.7,918.4 L162.5,933.3 L219.9,952.2 L266.3,970.0 L303.4,988.4 L328.8,1005.9 L346.3,1025.2 L355.9,1043.5 L359.4,1061.4 L360.3,1079.4 L356.8,1098.1 L352.4,1116.7 L348.1,1134.5 L344.2,1152.9 L338.4,1170.4 L335.2,1191.8 L334.0,1207.3" fill="none" stroke="#d00000" stroke-width="2.50" stroke-linejoin="miter"/>
<path d="M-780.9,488.4 L-780.9,505.2 L-785.3,526.1 L-791.0,547.0 L-795.4,568.0 L-804.2,595.2 L-810.0,620.4 L-811.3,639.3 L-805.6,662.4 L-797.0,677.0 L-782.4,691.6 L-762.2,706.3 L-730.2,725.2 L-692.4,741.9 L-651.8,756.5 L-593.9,775.5 L-535.8,790.1 L-477.8,802.7 L-405.4,815.6 L-231.0,853.2 L-47.1,890.4 L63.4,909.0 L110.7,919.2 L141.5,929.4 L175.6,938.5 L201.9,947.6 L226.4,956.4 L255.3,965.6 L274.9,974.4 L292.0,984.0 L309.0,992.8 L319.2,1001.9 L329.7,1011.2 L336.7,1020.4 L342.8,1029.5 L348.1,1038.6 L351.6,1047.9 L354.2,1056.7 L354.2,1065.4 L356.8,1075.0 L355.1,1084.1 L353.3,1093.4 L352.4,1102.7 L347.2,1111.8 L344.6,1120.9 L343.7,1130.2 L340.2,1138.9 L338.4,1148.2 L336.7,1157.3 L333.2,1166.9 L329.2,1191.8 L328.5,1211.6" fill="none" stroke="#2222ff" stroke-width="2.50" stroke-linejoin="miter"/>
<path d="M199.6,938.5h6.4v6.4h-6.4Z M298.5,975.9h6.4v6.4h-6.4Z M348.0,1012.7h6.4v6.4h-6.4Z M367.3,1049.4h6.4v6.4h-6.4Z M371.1,1085.8h6.4v6.4h-6.4Z M365.5,1122.6h6.4v6.4h-6.4Z M346.3,1158.8h6.4v6.4h-6.4Z" fill="none" stroke="#000000" stroke-width="1.3"/>
<path d="M159.3,930.1h6.4v6.4h-6.4Z M216.7,949.0h6.4v6.4h-6.4Z M263.1,966.8h6.4v6.4h-6.4Z M300.2,985.2h6.4v6.4h-6.4Z M325.6,1002.7h6.4v6.4h-6.4Z M343.1,1022.0h6.4v6.4h-6.4Z M352.7,1040.3h6.4v6.4h-6.4Z M356.2,1058.2h6.4v6.4h-6.4Z M357.1,1076.2h6.4v6.4h-6.4Z M353.6,1094.9h6.4v6.4h-6.4Z M349.2,1113.5h6.4v6.4h-6.4Z M344.9,1131.3h6.4v6.4h-6.4Z M341.0,1149.7h6.4v6.4h-6.4Z M335.2,1167.2h6.4v6.4h-6.4Z" fill="none" stroke="#d00000" stroke-width="1.3"/>
<path d="M138.3,926.2h6.4v6.4h-6.4Z M172.4,935.3h6.4v6.4h-6.4Z M198.7,944.4h6.4v6.4h-6.4Z M223.2,953.2h6.4v6.4h-6.4Z M252.1,962.4h6.4v6.4h-6.4Z M271.7,971.2h6.4v6.4h-6.4Z M288.8,980.8h6.4v6.4h-6.4Z M305.8,989.6h6.4v6.4h-6.4Z M316.0,998.7h6.4v6.4h-6.4Z M326.5,1008.0h6.4v6.4h-6.4Z M333.5,1017.2h6.4v6.4h-6.4Z M339.6,1026.3h6.4v6.4h-6.4Z M344.9,1035.4h6.4v6.4h-6.4Z M348.4,1044.7h6.4v6.4h-6.4Z M351.0,1053.5h6.4v6.4h-6.4Z M351.0,1062.2h6.4v6.4h-6.4Z M353.6,1071.8h6.4v6.4h-6.4Z M351.9,1080.9h6.4v6.4h-6.4Z M350.1,1090.2h6.4v6.4h-6.4Z M349.2,1099.5h6.4v6.4h-6.4Z M344.0,1108.6h6.4v6.4h-6.4Z M341.4,1117.7h6.4v6.4h-6.4Z M340.5,1127.0h6.4v6.4h-6.4Z M337.0,1135.7h6.4v6.4h-6.4Z M335.2,1145.0h6.4v6.4h-6.4Z M333.5,1154.1h6.4v6.4h-6.4Z M330.0,1163.7h6.4v6.4h-6.4Z" fill="none" stroke="#2222ff" stroke-width="1.3"/>
</g>
<path d="M125.40,916.60 H390.60 V1172.50" fill="none" stroke="#777" stroke-width="1"/>
<line x1="126.31" y1="1172.50" x2="126.31" y2="1167.00" stroke="#000" stroke-width="1.50"/><line x1="143.95" y1="1172.50" x2="143.95" y2="1169.90" stroke="#000" stroke-width="0.90"/><line x1="161.59" y1="1172.50" x2="161.59" y2="1169.90" stroke="#000" stroke-width="0.90"/><line x1="179.23" y1="1172.50" x2="179.23" y2="1169.90" stroke="#000" stroke-width="0.90"/><line x1="196.87" y1="1172.50" x2="196.87" y2="1167.00" stroke="#000" stroke-width="1.50"/><line x1="214.51" y1="1172.50" x2="214.51" y2="1169.90" stroke="#000" stroke-width="0.90"/><line x1="232.15" y1="1172.50" x2="232.15" y2="1169.90" stroke="#000" stroke-width="0.90"/><line x1="249.79" y1="1172.50" x2="249.79" y2="1169.90" stroke="#000" stroke-width="0.90"/><line x1="267.44" y1="1172.50" x2="267.44" y2="1167.00" stroke="#000" stroke-width="1.50"/><line x1="285.08" y1="1172.50" x2="285.08" y2="1169.90" stroke="#000" stroke-width="0.90"/><line x1="302.72" y1="1172.50" x2="302.72" y2="1169.90" stroke="#000" stroke-width="0.90"/><line x1="320.36" y1="1172.50" x2="320.36" y2="1169.90" stroke="#000" stroke-width="0.90"/><line x1="338.00" y1="1172.50" x2="338.00" y2="1167.00" stroke="#000" stroke-width="1.50"/><line x1="355.64" y1="1172.50" x2="355.64" y2="1169.90" stroke="#000" stroke-width="0.90"/><line x1="373.28" y1="1172.50" x2="373.28" y2="1169.90" stroke="#000" stroke-width="0.90"/><line x1="125.40" y1="1165.35" x2="128.70" y2="1165.35" stroke="#000" stroke-width="0.90"/><line x1="125.40" y1="1158.03" x2="128.70" y2="1158.03" stroke="#000" stroke-width="0.90"/><line x1="125.40" y1="1150.72" x2="128.70" y2="1150.72" stroke="#000" stroke-width="0.90"/><line x1="125.40" y1="1143.40" x2="130.90" y2="1143.40" stroke="#000" stroke-width="1.50"/><line x1="125.40" y1="1136.09" x2="128.70" y2="1136.09" stroke="#000" stroke-width="0.90"/><line x1="125.40" y1="1128.77" x2="128.70" y2="1128.77" stroke="#000" stroke-width="0.90"/><line x1="125.40" y1="1121.46" x2="128.70" y2="1121.46" stroke="#000" stroke-width="0.90"/><line x1="125.40" y1="1114.14" x2="128.70" y2="1114.14" stroke="#000" stroke-width="0.90"/><line x1="125.40" y1="1106.83" x2="130.90" y2="1106.83" stroke="#000" stroke-width="1.50"/><line x1="125.40" y1="1099.51" x2="128.70" y2="1099.51" stroke="#000" stroke-width="0.90"/><line x1="125.40" y1="1092.20" x2="128.70" y2="1092.20" stroke="#000" stroke-width="0.90"/><line x1="125.40" y1="1084.88" x2="128.70" y2="1084.88" stroke="#000" stroke-width="0.90"/><line x1="125.40" y1="1077.57" x2="128.70" y2="1077.57" stroke="#000" stroke-width="0.90"/><line x1="125.40" y1="1070.25" x2="130.90" y2="1070.25" stroke="#000" stroke-width="1.50"/><line x1="125.40" y1="1062.94" x2="128.70" y2="1062.94" stroke="#000" stroke-width="0.90"/><line x1="125.40" y1="1055.62" x2="128.70" y2="1055.62" stroke="#000" stroke-width="0.90"/><line x1="125.40" y1="1048.30" x2="128.70" y2="1048.30" stroke="#000" stroke-width="0.90"/><line x1="125.40" y1="1040.99" x2="128.70" y2="1040.99" stroke="#000" stroke-width="0.90"/><line x1="125.40" y1="1033.67" x2="130.90" y2="1033.67" stroke="#000" stroke-width="1.50"/><line x1="125.40" y1="1026.36" x2="128.70" y2="1026.36" stroke="#000" stroke-width="0.90"/><line x1="125.40" y1="1019.04" x2="128.70" y2="1019.04" stroke="#000" stroke-width="0.90"/><line x1="125.40" y1="1011.73" x2="128.70" y2="1011.73" stroke="#000" stroke-width="0.90"/><line x1="125.40" y1="1004.41" x2="128.70" y2="1004.41" stroke="#000" stroke-width="0.90"/><line x1="125.40" y1="997.10" x2="130.90" y2="997.10" stroke="#000" stroke-width="1.50"/><line x1="125.40" y1="989.78" x2="128.70" y2="989.78" stroke="#000" stroke-width="0.90"/><line x1="125.40" y1="982.47" x2="128.70" y2="982.47" stroke="#000" stroke-width="0.90"/><line x1="125.40" y1="975.15" x2="128.70" y2="975.15" stroke="#000" stroke-width="0.90"/><line x1="125.40" y1="967.84" x2="128.70" y2="967.84" stroke="#000" stroke-width="0.90"/><line x1="125.40" y1="960.52" x2="130.90" y2="960.52" stroke="#000" stroke-width="1.50"/><line x1="125.40" y1="953.21" x2="128.70" y2="953.21" stroke="#000" stroke-width="0.90"/><line x1="125.40" y1="945.89" x2="128.70" y2="945.89" stroke="#000" stroke-width="0.90"/><line x1="125.40" y1="938.58" x2="128.70" y2="938.58" stroke="#000" stroke-width="0.90"/><line x1="125.40" y1="931.26" x2="128.70" y2="931.26" stroke="#000" stroke-width="0.90"/><line x1="125.40" y1="923.95" x2="130.90" y2="923.95" stroke="#000" stroke-width="1.50"/><line x1="125.40" y1="916.63" x2="128.70" y2="916.63" stroke="#000" stroke-width="0.90"/>
<path d="M125.40,916.60 V1172.50 H390.60" fill="none" stroke="#000" stroke-width="1.6"/>
<text x="99.60" y="1221.10" font-size="36" text-anchor="middle">-0.2</text>
<text x="284.12" y="1221.10" font-size="36" text-anchor="middle">-0.1</text>
<text x="468.65" y="1221.10" font-size="36" text-anchor="middle">0</text>
<text x="653.17" y="1221.10" font-size="36" text-anchor="middle">0.1</text>
<text x="837.70" y="1221.10" font-size="36" text-anchor="middle">0.2</text>
<text x="90.60" y="672.70" font-size="36" text-anchor="end">1</text>
<text x="90.60" y="805.13" font-size="36" text-anchor="end">0.5</text>
<text x="90.60" y="937.55" font-size="36" text-anchor="end">0</text>
<text x="90.60" y="1069.97" font-size="36" text-anchor="end">-0.5</text>
<text x="90.60" y="1202.40" font-size="36" text-anchor="end">-1</text>
<text x="472.10" y="1259.70" font-size="45" font-style="italic">J</text>
<text x="495.80" y="1236.20" font-size="25.5" font-weight="bold">*</text>
<text x="492.70" y="1271.50" font-size="26.5"><tspan font-style="italic">x</tspan>,A</text>
<text transform="translate(31.00,961.50) rotate(-90)" font-size="43.5" font-style="italic">y / H</text>
<text x="780.50" y="728.00" font-size="42" text-anchor="end">(c)</text>
<path d="M1034.4,676.8 L1042.8,703.3 L1052.6,729.7 L1069.3,756.2 L1092.8,782.6 L1127.0,809.0 L1163.0,835.5 L1200.0,861.9 L1246.0,888.4 L1298.0,914.8 L1351.0,941.3 L1399.0,967.7 L1446.0,994.2 L1490.0,1020.6 L1525.1,1047.0 L1555.0,1073.6 L1580.4,1100.2 L1595.6,1126.7 L1607.2,1153.2 L1614.0,1179.5" fill="none" stroke="#000000" stroke-width="2.90" stroke-linejoin="round" stroke-linecap="round"/>
<path d="M1042.8,669.1 C1042.5,671.4 1040.4,678.2 1040.8,682.8 C1041.2,687.3 1044.0,691.8 1045.3,696.4 C1046.6,701.0 1047.0,705.5 1048.4,710.1 C1049.8,714.7 1051.8,719.9 1053.7,723.7 C1055.6,727.5 1058.0,729.8 1059.8,732.8 C1061.6,735.8 1061.5,737.8 1064.3,741.9 C1067.1,746.0 1071.8,751.5 1076.4,757.1 C1080.9,762.7 1085.9,769.1 1091.6,775.3 C1097.3,781.5 1103.5,787.9 1110.5,794.4 C1117.5,800.9 1124.5,807.0 1133.3,814.1 C1142.1,821.2 1151.0,828.0 1163.6,836.9 C1176.2,845.8 1195.2,858.3 1209.1,867.2 C1223.0,876.0 1235.3,883.4 1247.0,890.0 C1258.7,896.6 1269.8,901.6 1279.5,906.7 C1289.2,911.7 1292.7,914.0 1305.0,920.3 C1317.3,926.6 1337.2,935.8 1353.6,944.6 C1370.0,953.5 1387.7,964.3 1403.6,973.4 C1419.5,982.5 1434.7,990.6 1449.1,999.2 C1463.5,1007.8 1479.9,1018.0 1490.1,1025.0 C1500.3,1032.0 1504.4,1036.4 1510.6,1041.4 C1516.7,1046.3 1521.6,1050.4 1527.0,1054.7 C1532.4,1059.1 1537.8,1063.4 1543.1,1067.7 C1548.4,1072.0 1554.1,1076.3 1558.8,1080.6 C1563.5,1084.9 1567.7,1088.9 1571.3,1093.3 C1574.9,1097.7 1577.4,1102.5 1580.4,1106.9 C1583.4,1111.3 1586.1,1115.3 1589.1,1119.7 C1592.0,1124.1 1596.1,1128.7 1598.1,1133.3 C1600.0,1137.9 1600.1,1142.7 1600.9,1147.2 C1601.7,1151.7 1601.6,1155.8 1603.0,1160.1 C1604.3,1164.4 1607.8,1168.7 1608.9,1173.1 C1610.0,1177.4 1609.5,1184.2 1609.6,1186.5" fill="none" stroke="#d00000" stroke-width="2.90" stroke-linejoin="round" stroke-linecap="round"/>
<path d="M1040.5,666.1 C1040.8,668.9 1041.0,677.8 1042.0,682.8 C1043.0,687.8 1045.2,691.8 1046.5,696.4 C1047.8,701.0 1048.2,705.5 1049.6,710.1 C1051.0,714.7 1053.0,719.9 1054.9,723.7 C1056.8,727.5 1059.2,729.8 1061.0,732.8 C1062.8,735.8 1062.7,737.8 1065.5,741.9 C1068.3,746.0 1073.0,751.5 1077.6,757.1 C1082.1,762.7 1087.2,769.2 1092.8,775.3 C1098.4,781.4 1104.2,787.2 1111.0,793.5 C1117.8,799.8 1125.0,806.1 1133.8,813.2 C1142.6,820.3 1151.5,827.1 1164.1,836.0 C1176.7,844.9 1195.7,857.4 1209.6,866.3 C1223.5,875.1 1235.8,882.5 1247.5,889.1 C1259.2,895.7 1270.3,900.8 1280.0,905.8 C1289.7,910.8 1293.2,913.1 1305.5,919.4 C1317.8,925.7 1337.7,934.9 1354.1,943.7 C1370.5,952.6 1388.2,963.4 1404.1,972.5 C1420.0,981.6 1435.2,989.7 1449.6,998.3 C1464.0,1006.9 1480.9,1017.6 1490.6,1024.1 C1500.3,1030.5 1503.7,1033.6 1508.0,1037.0 C1512.3,1040.4 1513.5,1042.2 1516.5,1044.4 C1519.4,1046.7 1522.6,1048.4 1525.6,1050.6 C1528.6,1052.8 1531.8,1055.4 1534.4,1057.6 C1536.9,1059.9 1538.7,1061.9 1540.6,1064.1 C1542.6,1066.3 1543.9,1068.6 1546.2,1070.8 C1548.6,1073.0 1552.3,1074.8 1554.6,1077.0 C1557.0,1079.2 1558.4,1082.0 1560.2,1084.2 C1562.1,1086.4 1564.0,1088.2 1565.8,1090.4 C1567.6,1092.5 1569.4,1094.9 1571.1,1097.1 C1572.9,1099.4 1574.5,1101.6 1576.4,1103.8 C1578.2,1106.1 1580.5,1108.4 1582.0,1110.6 C1583.4,1112.7 1583.9,1114.7 1585.1,1116.8 C1586.3,1118.8 1587.4,1120.7 1589.0,1123.0 C1590.5,1125.2 1593.6,1127.9 1594.6,1130.2 C1595.5,1132.4 1593.8,1134.2 1594.6,1136.4 C1595.3,1138.5 1597.8,1140.8 1599.1,1143.1 C1600.4,1145.3 1601.6,1147.6 1602.3,1149.8 C1603.0,1152.0 1603.0,1154.2 1603.3,1156.5 C1603.7,1158.7 1604.0,1161.0 1604.4,1163.2 C1604.7,1165.4 1605.2,1167.2 1605.4,1169.4 C1605.6,1171.6 1605.0,1173.9 1605.4,1176.1 C1605.8,1178.4 1607.7,1180.7 1607.9,1182.9 C1608.1,1185.0 1606.7,1188.0 1606.5,1189.0" fill="none" stroke="#2222ff" stroke-width="3.00" stroke-linejoin="round" stroke-linecap="round"/>
<line x1="978.86" y1="1192.50" x2="978.86" y2="1178.00" stroke="#000" stroke-width="2.5"/><line x1="1001.92" y1="1192.50" x2="1001.92" y2="1184.20" stroke="#000" stroke-width="1.2"/><line x1="1024.97" y1="1192.50" x2="1024.97" y2="1184.20" stroke="#000" stroke-width="1.2"/><line x1="1048.03" y1="1192.50" x2="1048.03" y2="1184.20" stroke="#000" stroke-width="1.2"/><line x1="1071.08" y1="1192.50" x2="1071.08" y2="1184.20" stroke="#000" stroke-width="1.2"/><line x1="1094.14" y1="1192.50" x2="1094.14" y2="1178.00" stroke="#000" stroke-width="2.5"/><line x1="1117.20" y1="1192.50" x2="1117.20" y2="1184.20" stroke="#000" stroke-width="1.2"/><line x1="1140.25" y1="1192.50" x2="1140.25" y2="1184.20" stroke="#000" stroke-width="1.2"/><line x1="1163.31" y1="1192.50" x2="1163.31" y2="1184.20" stroke="#000" stroke-width="1.2"/><line x1="1186.36" y1="1192.50" x2="1186.36" y2="1184.20" stroke="#000" stroke-width="1.2"/><line x1="1209.42" y1="1192.50" x2="1209.42" y2="1178.00" stroke="#000" stroke-width="2.5"/><line x1="1232.48" y1="1192.50" x2="1232.48" y2="1184.20" stroke="#000" stroke-width="1.2"/><line x1="1255.53" y1="1192.50" x2="1255.53" y2="1184.20" stroke="#000" stroke-width="1.2"/><line x1="1278.59" y1="1192.50" x2="1278.59" y2="1184.20" stroke="#000" stroke-width="1.2"/><line x1="1301.64" y1="1192.50" x2="1301.64" y2="1184.20" stroke="#000" stroke-width="1.2"/><line x1="1324.70" y1="1192.50" x2="1324.70" y2="1178.00" stroke="#000" stroke-width="2.5"/><line x1="1347.76" y1="1192.50" x2="1347.76" y2="1184.20" stroke="#000" stroke-width="1.2"/><line x1="1370.81" y1="1192.50" x2="1370.81" y2="1184.20" stroke="#000" stroke-width="1.2"/><line x1="1393.87" y1="1192.50" x2="1393.87" y2="1184.20" stroke="#000" stroke-width="1.2"/><line x1="1416.92" y1="1192.50" x2="1416.92" y2="1184.20" stroke="#000" stroke-width="1.2"/><line x1="1439.98" y1="1192.50" x2="1439.98" y2="1178.00" stroke="#000" stroke-width="2.5"/><line x1="1463.04" y1="1192.50" x2="1463.04" y2="1184.20" stroke="#000" stroke-width="1.2"/><line x1="1486.09" y1="1192.50" x2="1486.09" y2="1184.20" stroke="#000" stroke-width="1.2"/><line x1="1509.15" y1="1192.50" x2="1509.15" y2="1184.20" stroke="#000" stroke-width="1.2"/><line x1="1532.20" y1="1192.50" x2="1532.20" y2="1184.20" stroke="#000" stroke-width="1.2"/><line x1="1555.26" y1="1192.50" x2="1555.26" y2="1178.00" stroke="#000" stroke-width="2.5"/><line x1="1578.32" y1="1192.50" x2="1578.32" y2="1184.20" stroke="#000" stroke-width="1.2"/><line x1="1601.37" y1="1192.50" x2="1601.37" y2="1184.20" stroke="#000" stroke-width="1.2"/><line x1="1624.43" y1="1192.50" x2="1624.43" y2="1184.20" stroke="#000" stroke-width="1.2"/><line x1="1647.48" y1="1192.50" x2="1647.48" y2="1184.20" stroke="#000" stroke-width="1.2"/><line x1="1670.54" y1="1192.50" x2="1670.54" y2="1178.00" stroke="#000" stroke-width="2.5"/><line x1="955.80" y1="1166.05" x2="964.10" y2="1166.05" stroke="#000" stroke-width="1.2"/><line x1="955.80" y1="1139.61" x2="964.10" y2="1139.61" stroke="#000" stroke-width="1.2"/><line x1="955.80" y1="1113.16" x2="964.10" y2="1113.16" stroke="#000" stroke-width="1.2"/><line x1="955.80" y1="1086.72" x2="964.10" y2="1086.72" stroke="#000" stroke-width="1.2"/><line x1="955.80" y1="1060.27" x2="970.30" y2="1060.27" stroke="#000" stroke-width="2.5"/><line x1="955.80" y1="1033.83" x2="964.10" y2="1033.83" stroke="#000" stroke-width="1.2"/><line x1="955.80" y1="1007.38" x2="964.10" y2="1007.38" stroke="#000" stroke-width="1.2"/><line x1="955.80" y1="980.94" x2="964.10" y2="980.94" stroke="#000" stroke-width="1.2"/><line x1="955.80" y1="954.49" x2="964.10" y2="954.49" stroke="#000" stroke-width="1.2"/><line x1="955.80" y1="928.05" x2="970.30" y2="928.05" stroke="#000" stroke-width="2.5"/><line x1="955.80" y1="901.60" x2="964.10" y2="901.60" stroke="#000" stroke-width="1.2"/><line x1="955.80" y1="875.16" x2="964.10" y2="875.16" stroke="#000" stroke-width="1.2"/><line x1="955.80" y1="848.71" x2="964.10" y2="848.71" stroke="#000" stroke-width="1.2"/><line x1="955.80" y1="822.27" x2="964.10" y2="822.27" stroke="#000" stroke-width="1.2"/><line x1="955.80" y1="795.82" x2="970.30" y2="795.82" stroke="#000" stroke-width="2.5"/><line x1="955.80" y1="769.38" x2="964.10" y2="769.38" stroke="#000" stroke-width="1.2"/><line x1="955.80" y1="742.93" x2="964.10" y2="742.93" stroke="#000" stroke-width="1.2"/><line x1="955.80" y1="716.49" x2="964.10" y2="716.49" stroke="#000" stroke-width="1.2"/><line x1="955.80" y1="690.04" x2="964.10" y2="690.04" stroke="#000" stroke-width="1.2"/>
<rect x="955.80" y="663.60" width="737.80" height="528.90" fill="none" stroke="#000" stroke-width="3"/>
<rect x="1509.15" y="1086.70" width="115.25" height="106.30" fill="none" stroke="#333" stroke-width="1.10"/>
<line x1="1494.8" y1="1132.8" x2="1311.6" y2="1052.2" stroke="#000" stroke-width="1.1"/>
<path d="M1281.2,1038.5 L1314.5,1045.8 L1308.7,1058.6 Z" fill="#000"/>
<clipPath id="clip_d"><rect x="980.30" y="909.10" width="288.40" height="268.90"/></clipPath>
<rect x="980.30" y="909.10" width="288.40" height="268.90" fill="#fff"/>
<g clip-path="url(#clip_d)">
<path d="M-207.4,304.2 L-186.4,349.1 L-161.9,393.8 L-120.1,438.7 L-61.3,483.5 L24.3,528.2 L114.3,573.1 L206.9,617.8 L322.0,662.7 L452.1,707.5 L584.7,752.4 L704.7,797.1 L822.3,842.0 L932.4,886.7 L1020.2,931.5 L1095.0,976.5 L1158.4,1021.7 L1196.5,1066.6 L1225.5,1111.5 L1242.7,1156.1" fill="none" stroke="#000000" stroke-width="2.50" stroke-linejoin="miter"/>
<path d="M-186.4,291.2 L-191.4,314.4 L-180.1,337.4 L-172.4,360.6 L-159.1,383.7 L-143.9,399.1 L-132.6,414.5 L-102.3,440.3 L-64.3,471.1 L-17.0,503.5 L40.0,536.8 L115.8,575.5 L229.7,626.8 L324.5,665.4 L405.8,693.7 L469.6,716.8 L591.2,758.0 L716.2,806.8 L830.1,850.5 L932.6,894.2 L983.8,921.9 L1024.9,944.6 L1065.2,966.5 L1104.6,988.4 L1135.8,1009.9 L1158.5,1033.0 L1180.2,1054.6 L1202.8,1077.7 L1209.8,1101.3 L1215.0,1123.2 L1229.9,1145.1 L1231.6,1167.8" fill="none" stroke="#d00000" stroke-width="2.50" stroke-linejoin="miter"/>
<path d="M-192.1,286.1 L-188.4,314.4 L-177.1,337.4 L-169.4,360.6 L-156.1,383.7 L-140.9,399.1 L-129.6,414.5 L-99.3,440.3 L-61.3,471.1 L-15.8,501.9 L41.3,535.3 L117.1,573.9 L230.9,625.3 L325.7,663.9 L407.0,692.2 L470.8,715.3 L592.4,756.4 L717.5,805.2 L831.3,848.9 L933.9,892.7 L977.4,914.5 L998.6,927.1 L1021.4,937.6 L1043.3,949.5 L1059.1,960.4 L1073.1,971.8 L1094.1,982.3 L1108.1,994.5 L1122.1,1005.0 L1135.3,1016.4 L1148.4,1027.8 L1162.4,1039.2 L1170.3,1049.7 L1179.9,1060.2 L1193.9,1072.4 L1193.9,1082.9 L1205.4,1094.3 L1213.3,1105.7 L1215.9,1117.0 L1218.5,1128.4 L1221.1,1138.9 L1221.1,1150.3 L1227.3,1161.7 L1223.8,1172.2" fill="none" stroke="#2222ff" stroke-width="2.50" stroke-linejoin="miter"/>
<path d="M1017.0,928.3h6.4v6.4h-6.4Z M1091.7,973.3h6.4v6.4h-6.4Z M1155.1,1018.5h6.4v6.4h-6.4Z M1193.2,1063.4h6.4v6.4h-6.4Z M1222.1,1108.3h6.4v6.4h-6.4Z M1239.3,1152.9h6.4v6.4h-6.4Z" fill="none" stroke="#000000" stroke-width="1.3"/>
<path d="M980.6,918.7h6.4v6.4h-6.4Z M1021.7,941.4h6.4v6.4h-6.4Z M1061.9,963.3h6.4v6.4h-6.4Z M1101.3,985.2h6.4v6.4h-6.4Z M1132.5,1006.7h6.4v6.4h-6.4Z M1155.2,1029.8h6.4v6.4h-6.4Z M1176.9,1051.4h6.4v6.4h-6.4Z M1199.4,1074.5h6.4v6.4h-6.4Z M1206.4,1098.1h6.4v6.4h-6.4Z M1211.6,1120.0h6.4v6.4h-6.4Z M1226.5,1141.9h6.4v6.4h-6.4Z M1228.2,1164.6h6.4v6.4h-6.4Z" fill="none" stroke="#d00000" stroke-width="1.3"/>
<path d="M995.4,923.9h6.4v6.4h-6.4Z M1018.2,934.4h6.4v6.4h-6.4Z M1040.1,946.3h6.4v6.4h-6.4Z M1055.8,957.2h6.4v6.4h-6.4Z M1069.8,968.6h6.4v6.4h-6.4Z M1090.8,979.1h6.4v6.4h-6.4Z M1104.8,991.3h6.4v6.4h-6.4Z M1118.8,1001.8h6.4v6.4h-6.4Z M1132.0,1013.2h6.4v6.4h-6.4Z M1145.1,1024.6h6.4v6.4h-6.4Z M1159.1,1036.0h6.4v6.4h-6.4Z M1167.0,1046.5h6.4v6.4h-6.4Z M1176.6,1057.0h6.4v6.4h-6.4Z M1190.6,1069.2h6.4v6.4h-6.4Z M1190.6,1079.7h6.4v6.4h-6.4Z M1202.0,1091.1h6.4v6.4h-6.4Z M1209.9,1102.5h6.4v6.4h-6.4Z M1212.5,1113.8h6.4v6.4h-6.4Z M1215.1,1125.2h6.4v6.4h-6.4Z M1217.7,1135.7h6.4v6.4h-6.4Z M1217.7,1147.1h6.4v6.4h-6.4Z M1223.9,1158.5h6.4v6.4h-6.4Z M1220.4,1169.0h6.4v6.4h-6.4Z" fill="none" stroke="#2222ff" stroke-width="1.3"/>
</g>
<path d="M980.30,909.10 H1268.70 V1178.00" fill="none" stroke="#777" stroke-width="1"/>
<line x1="986.06" y1="1178.00" x2="986.06" y2="1175.40" stroke="#000" stroke-width="0.90"/><line x1="991.83" y1="1178.00" x2="991.83" y2="1175.40" stroke="#000" stroke-width="0.90"/><line x1="997.60" y1="1178.00" x2="997.60" y2="1175.40" stroke="#000" stroke-width="0.90"/><line x1="1003.37" y1="1178.00" x2="1003.37" y2="1175.40" stroke="#000" stroke-width="0.90"/><line x1="1009.13" y1="1178.00" x2="1009.13" y2="1172.50" stroke="#000" stroke-width="1.50"/><line x1="1014.90" y1="1178.00" x2="1014.90" y2="1175.40" stroke="#000" stroke-width="0.90"/><line x1="1020.67" y1="1178.00" x2="1020.67" y2="1175.40" stroke="#000" stroke-width="0.90"/><line x1="1026.44" y1="1178.00" x2="1026.44" y2="1175.40" stroke="#000" stroke-width="0.90"/><line x1="1032.21" y1="1178.00" x2="1032.21" y2="1175.40" stroke="#000" stroke-width="0.90"/><line x1="1037.97" y1="1178.00" x2="1037.97" y2="1172.50" stroke="#000" stroke-width="1.50"/><line x1="1043.74" y1="1178.00" x2="1043.74" y2="1175.40" stroke="#000" stroke-width="0.90"/><line x1="1049.51" y1="1178.00" x2="1049.51" y2="1175.40" stroke="#000" stroke-width="0.90"/><line x1="1055.28" y1="1178.00" x2="1055.28" y2="1175.40" stroke="#000" stroke-width="0.90"/><line x1="1061.05" y1="1178.00" x2="1061.05" y2="1175.40" stroke="#000" stroke-width="0.90"/><line x1="1066.81" y1="1178.00" x2="1066.81" y2="1172.50" stroke="#000" stroke-width="1.50"/><line x1="1072.58" y1="1178.00" x2="1072.58" y2="1175.40" stroke="#000" stroke-width="0.90"/><line x1="1078.35" y1="1178.00" x2="1078.35" y2="1175.40" stroke="#000" stroke-width="0.90"/><line x1="1084.12" y1="1178.00" x2="1084.12" y2="1175.40" stroke="#000" stroke-width="0.90"/><line x1="1089.89" y1="1178.00" x2="1089.89" y2="1175.40" stroke="#000" stroke-width="0.90"/><line x1="1095.65" y1="1178.00" x2="1095.65" y2="1172.50" stroke="#000" stroke-width="1.50"/><line x1="1101.42" y1="1178.00" x2="1101.42" y2="1175.40" stroke="#000" stroke-width="0.90"/><line x1="1107.19" y1="1178.00" x2="1107.19" y2="1175.40" stroke="#000" stroke-width="0.90"/><line x1="1112.96" y1="1178.00" x2="1112.96" y2="1175.40" stroke="#000" stroke-width="0.90"/><line x1="1118.73" y1="1178.00" x2="1118.73" y2="1175.40" stroke="#000" stroke-width="0.90"/><line x1="1124.49" y1="1178.00" x2="1124.49" y2="1172.50" stroke="#000" stroke-width="1.50"/><line x1="1130.26" y1="1178.00" x2="1130.26" y2="1175.40" stroke="#000" stroke-width="0.90"/><line x1="1136.03" y1="1178.00" x2="1136.03" y2="1175.40" stroke="#000" stroke-width="0.90"/><line x1="1141.80" y1="1178.00" x2="1141.80" y2="1175.40" stroke="#000" stroke-width="0.90"/><line x1="1147.57" y1="1178.00" x2="1147.57" y2="1175.40" stroke="#000" stroke-width="0.90"/><line x1="1153.33" y1="1178.00" x2="1153.33" y2="1172.50" stroke="#000" stroke-width="1.50"/><line x1="1159.10" y1="1178.00" x2="1159.10" y2="1175.40" stroke="#000" stroke-width="0.90"/><line x1="1164.87" y1="1178.00" x2="1164.87" y2="1175.40" stroke="#000" stroke-width="0.90"/><line x1="1170.64" y1="1178.00" x2="1170.64" y2="1175.40" stroke="#000" stroke-width="0.90"/><line x1="1176.41" y1="1178.00" x2="1176.41" y2="1175.40" stroke="#000" stroke-width="0.90"/><line x1="1182.17" y1="1178.00" x2="1182.17" y2="1172.50" stroke="#000" stroke-width="1.50"/><line x1="1187.94" y1="1178.00" x2="1187.94" y2="1175.40" stroke="#000" stroke-width="0.90"/><line x1="1193.71" y1="1178.00" x2="1193.71" y2="1175.40" stroke="#000" stroke-width="0.90"/><line x1="1199.48" y1="1178.00" x2="1199.48" y2="1175.40" stroke="#000" stroke-width="0.90"/><line x1="1205.25" y1="1178.00" x2="1205.25" y2="1175.40" stroke="#000" stroke-width="0.90"/><line x1="1211.01" y1="1178.00" x2="1211.01" y2="1172.50" stroke="#000" stroke-width="1.50"/><line x1="1216.78" y1="1178.00" x2="1216.78" y2="1175.40" stroke="#000" stroke-width="0.90"/><line x1="1222.55" y1="1178.00" x2="1222.55" y2="1175.40" stroke="#000" stroke-width="0.90"/><line x1="1228.32" y1="1178.00" x2="1228.32" y2="1175.40" stroke="#000" stroke-width="0.90"/><line x1="1234.09" y1="1178.00" x2="1234.09" y2="1175.40" stroke="#000" stroke-width="0.90"/><line x1="1239.85" y1="1178.00" x2="1239.85" y2="1172.50" stroke="#000" stroke-width="1.50"/><line x1="1245.62" y1="1178.00" x2="1245.62" y2="1175.40" stroke="#000" stroke-width="0.90"/><line x1="1251.39" y1="1178.00" x2="1251.39" y2="1175.40" stroke="#000" stroke-width="0.90"/><line x1="1257.16" y1="1178.00" x2="1257.16" y2="1175.40" stroke="#000" stroke-width="0.90"/><line x1="1262.93" y1="1178.00" x2="1262.93" y2="1175.40" stroke="#000" stroke-width="0.90"/><line x1="1268.69" y1="1178.00" x2="1268.69" y2="1172.50" stroke="#000" stroke-width="1.50"/><line x1="980.30" y1="1169.04" x2="983.60" y2="1169.04" stroke="#000" stroke-width="0.90"/><line x1="980.30" y1="1160.08" x2="983.60" y2="1160.08" stroke="#000" stroke-width="0.90"/><line x1="980.30" y1="1151.12" x2="983.60" y2="1151.12" stroke="#000" stroke-width="0.90"/><line x1="980.30" y1="1142.15" x2="983.60" y2="1142.15" stroke="#000" stroke-width="0.90"/><line x1="980.30" y1="1133.19" x2="985.80" y2="1133.19" stroke="#000" stroke-width="1.50"/><line x1="980.30" y1="1124.23" x2="983.60" y2="1124.23" stroke="#000" stroke-width="0.90"/><line x1="980.30" y1="1115.27" x2="983.60" y2="1115.27" stroke="#000" stroke-width="0.90"/><line x1="980.30" y1="1106.31" x2="983.60" y2="1106.31" stroke="#000" stroke-width="0.90"/><line x1="980.30" y1="1097.35" x2="983.60" y2="1097.35" stroke="#000" stroke-width="0.90"/><line x1="980.30" y1="1088.38" x2="985.80" y2="1088.38" stroke="#000" stroke-width="1.50"/><line x1="980.30" y1="1079.42" x2="983.60" y2="1079.42" stroke="#000" stroke-width="0.90"/><line x1="980.30" y1="1070.46" x2="983.60" y2="1070.46" stroke="#000" stroke-width="0.90"/><line x1="980.30" y1="1061.50" x2="983.60" y2="1061.50" stroke="#000" stroke-width="0.90"/><line x1="980.30" y1="1052.54" x2="983.60" y2="1052.54" stroke="#000" stroke-width="0.90"/><line x1="980.30" y1="1043.58" x2="985.80" y2="1043.58" stroke="#000" stroke-width="1.50"/><line x1="980.30" y1="1034.61" x2="983.60" y2="1034.61" stroke="#000" stroke-width="0.90"/><line x1="980.30" y1="1025.65" x2="983.60" y2="1025.65" stroke="#000" stroke-width="0.90"/><line x1="980.30" y1="1016.69" x2="983.60" y2="1016.69" stroke="#000" stroke-width="0.90"/><line x1="980.30" y1="1007.73" x2="983.60" y2="1007.73" stroke="#000" stroke-width="0.90"/><line x1="980.30" y1="998.77" x2="985.80" y2="998.77" stroke="#000" stroke-width="1.50"/><line x1="980.30" y1="989.81" x2="983.60" y2="989.81" stroke="#000" stroke-width="0.90"/><line x1="980.30" y1="980.84" x2="983.60" y2="980.84" stroke="#000" stroke-width="0.90"/><line x1="980.30" y1="971.88" x2="983.60" y2="971.88" stroke="#000" stroke-width="0.90"/><line x1="980.30" y1="962.92" x2="983.60" y2="962.92" stroke="#000" stroke-width="0.90"/><line x1="980.30" y1="953.96" x2="985.80" y2="953.96" stroke="#000" stroke-width="1.50"/><line x1="980.30" y1="945.00" x2="983.60" y2="945.00" stroke="#000" stroke-width="0.90"/><line x1="980.30" y1="936.04" x2="983.60" y2="936.04" stroke="#000" stroke-width="0.90"/><line x1="980.30" y1="927.07" x2="983.60" y2="927.07" stroke="#000" stroke-width="0.90"/><line x1="980.30" y1="918.11" x2="983.60" y2="918.11" stroke="#000" stroke-width="0.90"/><line x1="980.30" y1="909.15" x2="985.80" y2="909.15" stroke="#000" stroke-width="1.50"/>
<path d="M980.30,909.10 V1178.00 H1268.70" fill="none" stroke="#000" stroke-width="1.6"/>
<text x="978.86" y="1223.70" font-size="36" text-anchor="middle">-0.15</text>
<text x="1094.14" y="1223.70" font-size="36" text-anchor="middle">-0.1</text>
<text x="1209.42" y="1223.70" font-size="36" text-anchor="middle">-0.05</text>
<text x="1324.70" y="1223.70" font-size="36" text-anchor="middle">0</text>
<text x="1439.98" y="1223.70" font-size="36" text-anchor="middle">0.05</text>
<text x="1555.26" y="1223.70" font-size="36" text-anchor="middle">0.1</text>
<text x="1670.54" y="1223.70" font-size="36" text-anchor="middle">0.15</text>
<text x="946.80" y="675.70" font-size="36" text-anchor="end">1</text>
<text x="946.80" y="807.92" font-size="36" text-anchor="end">0.5</text>
<text x="946.80" y="940.15" font-size="36" text-anchor="end">0</text>
<text x="946.80" y="1072.37" font-size="36" text-anchor="end">-0.5</text>
<text x="946.80" y="1204.60" font-size="36" text-anchor="end">-1</text>
<text x="1328.15" y="1261.90" font-size="45" font-style="italic">J</text>
<text x="1351.85" y="1238.40" font-size="25.5" font-weight="bold">*</text>
<text x="1348.75" y="1273.70" font-size="26.5"><tspan font-style="italic">x</tspan>,A</text>
<text transform="translate(887.20,964.10) rotate(-90)" font-size="43.5" font-style="italic">y / H</text>
<text x="1642.50" y="727.80" font-size="42" text-anchor="end">(d)</text>
<path d="M163.1,1318.4 L168.4,1344.1 L175.2,1354.6 L194.1,1379.8 L213.0,1402.4 L228.8,1425.0 L256.1,1440.7 L281.3,1456.5 L306.0,1478.5 L358.3,1505.5 L393.3,1525.3 L422.5,1542.8 L440.0,1553.4 L463.4,1566.2 L480.0,1574.0 L526.7,1604.3 L550.0,1616.0 L573.3,1626.5 L594.4,1635.8 L608.4,1648.7 L623.5,1662.7 L643.4,1674.4 L668.5,1689.8 L709.3,1716.3 L736.6,1743.2 L750.3,1769.6 L771.9,1795.9 L773.6,1822.2" fill="none" stroke="#000000" stroke-width="2.90" stroke-linejoin="round" stroke-linecap="round"/>
<path d="M166.8,1311.6 L172.1,1322.6 L170.0,1338.9 L175.2,1351.5 L188.9,1364.1 L195.2,1379.8 L208.8,1394.5 L220.4,1405.0 L229.8,1418.7 L259.2,1443.9 L281.3,1457.5 L307.5,1467.0 L329.2,1485.1 L358.3,1504.3 L387.5,1521.8 L416.7,1540.5 L422.5,1545.2 L440.0,1554.5 L463.4,1563.9 L480.9,1573.8 L503.3,1588.0 L529.0,1603.2 L555.8,1617.2 L573.3,1626.5 L590.9,1638.2 L614.2,1654.5 L637.5,1669.7 L655.0,1683.7 L668.0,1693.1 L680.0,1700.6 L693.6,1710.5 L705.9,1723.4 L725.4,1736.3 L735.7,1749.5 L750.0,1763.1 L752.8,1776.1 L759.6,1789.4 L765.1,1802.5 L768.0,1816.0 L769.0,1828.8" fill="none" stroke="#d00000" stroke-width="2.90" stroke-linejoin="round" stroke-linecap="round"/>
<path d="M168.4,1307.9 L174.7,1322.1 L172.1,1330.5 L174.2,1334.7 L181.5,1342.0 L178.9,1348.3 L181.5,1355.1 L191.5,1360.9 L197.8,1375.1 L196.2,1380.9 L204.6,1389.3 L218.3,1401.9 L221.4,1409.2 L239.3,1421.8 L258.2,1434.9 L260.3,1441.8 L281.3,1453.3 L288.6,1461.7 L302.3,1468.0 L315.2,1481.0 L329.2,1489.2 L358.3,1506.7 L387.5,1521.8 L422.5,1539.3 L423.7,1547.5 L440.0,1555.7 L463.4,1567.4 L480.0,1574.0 L503.3,1589.2 L529.0,1606.7 L544.2,1613.7 L567.5,1627.1 L590.9,1640.5 L608.4,1652.2 L631.7,1666.2 L649.2,1676.7 L658.5,1680.2 L666.7,1687.2 L672.5,1693.0 L680.0,1697.1 L692.6,1706.4 L700.1,1713.3 L709.7,1720.0 L713.4,1726.4 L720.6,1733.2 L728.4,1739.8 L731.4,1746.3 L733.6,1753.0 L741.1,1759.4 L746.2,1766.1 L751.6,1772.8 L756.5,1779.5 L761.2,1786.0 L763.5,1792.4 L770.2,1799.6 L767.1,1806.0 L768.5,1812.2 L772.8,1818.9 L775.8,1825.6 L774.8,1832.1" fill="none" stroke="#2222ff" stroke-width="3.00" stroke-linejoin="round" stroke-linecap="round"/>
<line x1="105.24" y1="1835.50" x2="105.24" y2="1827.20" stroke="#000" stroke-width="1.2"/><line x1="133.40" y1="1835.50" x2="133.40" y2="1821.00" stroke="#000" stroke-width="2.5"/><line x1="161.56" y1="1835.50" x2="161.56" y2="1827.20" stroke="#000" stroke-width="1.2"/><line x1="189.73" y1="1835.50" x2="189.73" y2="1827.20" stroke="#000" stroke-width="1.2"/><line x1="217.89" y1="1835.50" x2="217.89" y2="1827.20" stroke="#000" stroke-width="1.2"/><line x1="246.05" y1="1835.50" x2="246.05" y2="1821.00" stroke="#000" stroke-width="2.5"/><line x1="274.21" y1="1835.50" x2="274.21" y2="1827.20" stroke="#000" stroke-width="1.2"/><line x1="302.38" y1="1835.50" x2="302.38" y2="1827.20" stroke="#000" stroke-width="1.2"/><line x1="330.54" y1="1835.50" x2="330.54" y2="1827.20" stroke="#000" stroke-width="1.2"/><line x1="358.70" y1="1835.50" x2="358.70" y2="1821.00" stroke="#000" stroke-width="2.5"/><line x1="386.86" y1="1835.50" x2="386.86" y2="1827.20" stroke="#000" stroke-width="1.2"/><line x1="415.03" y1="1835.50" x2="415.03" y2="1827.20" stroke="#000" stroke-width="1.2"/><line x1="443.19" y1="1835.50" x2="443.19" y2="1827.20" stroke="#000" stroke-width="1.2"/><line x1="471.35" y1="1835.50" x2="471.35" y2="1821.00" stroke="#000" stroke-width="2.5"/><line x1="499.51" y1="1835.50" x2="499.51" y2="1827.20" stroke="#000" stroke-width="1.2"/><line x1="527.67" y1="1835.50" x2="527.67" y2="1827.20" stroke="#000" stroke-width="1.2"/><line x1="555.84" y1="1835.50" x2="555.84" y2="1827.20" stroke="#000" stroke-width="1.2"/><line x1="584.00" y1="1835.50" x2="584.00" y2="1821.00" stroke="#000" stroke-width="2.5"/><line x1="612.16" y1="1835.50" x2="612.16" y2="1827.20" stroke="#000" stroke-width="1.2"/><line x1="640.33" y1="1835.50" x2="640.33" y2="1827.20" stroke="#000" stroke-width="1.2"/><line x1="668.49" y1="1835.50" x2="668.49" y2="1827.20" stroke="#000" stroke-width="1.2"/><line x1="696.65" y1="1835.50" x2="696.65" y2="1821.00" stroke="#000" stroke-width="2.5"/><line x1="724.81" y1="1835.50" x2="724.81" y2="1827.20" stroke="#000" stroke-width="1.2"/><line x1="752.98" y1="1835.50" x2="752.98" y2="1827.20" stroke="#000" stroke-width="1.2"/><line x1="781.14" y1="1835.50" x2="781.14" y2="1827.20" stroke="#000" stroke-width="1.2"/><line x1="809.30" y1="1835.50" x2="809.30" y2="1821.00" stroke="#000" stroke-width="2.5"/><line x1="99.50" y1="1809.01" x2="107.80" y2="1809.01" stroke="#000" stroke-width="1.2"/><line x1="99.50" y1="1782.51" x2="107.80" y2="1782.51" stroke="#000" stroke-width="1.2"/><line x1="99.50" y1="1756.01" x2="107.80" y2="1756.01" stroke="#000" stroke-width="1.2"/><line x1="99.50" y1="1729.52" x2="107.80" y2="1729.52" stroke="#000" stroke-width="1.2"/><line x1="99.50" y1="1703.03" x2="114.00" y2="1703.03" stroke="#000" stroke-width="2.5"/><line x1="99.50" y1="1676.53" x2="107.80" y2="1676.53" stroke="#000" stroke-width="1.2"/><line x1="99.50" y1="1650.03" x2="107.80" y2="1650.03" stroke="#000" stroke-width="1.2"/><line x1="99.50" y1="1623.54" x2="107.80" y2="1623.54" stroke="#000" stroke-width="1.2"/><line x1="99.50" y1="1597.04" x2="107.80" y2="1597.04" stroke="#000" stroke-width="1.2"/><line x1="99.50" y1="1570.55" x2="114.00" y2="1570.55" stroke="#000" stroke-width="2.5"/><line x1="99.50" y1="1544.05" x2="107.80" y2="1544.05" stroke="#000" stroke-width="1.2"/><line x1="99.50" y1="1517.56" x2="107.80" y2="1517.56" stroke="#000" stroke-width="1.2"/><line x1="99.50" y1="1491.06" x2="107.80" y2="1491.06" stroke="#000" stroke-width="1.2"/><line x1="99.50" y1="1464.57" x2="107.80" y2="1464.57" stroke="#000" stroke-width="1.2"/><line x1="99.50" y1="1438.07" x2="114.00" y2="1438.07" stroke="#000" stroke-width="2.5"/><line x1="99.50" y1="1411.58" x2="107.80" y2="1411.58" stroke="#000" stroke-width="1.2"/><line x1="99.50" y1="1385.08" x2="107.80" y2="1385.08" stroke="#000" stroke-width="1.2"/><line x1="99.50" y1="1358.59" x2="107.80" y2="1358.59" stroke="#000" stroke-width="1.2"/><line x1="99.50" y1="1332.09" x2="107.80" y2="1332.09" stroke="#000" stroke-width="1.2"/>
<rect x="99.50" y="1305.60" width="738.10" height="529.90" fill="none" stroke="#000" stroke-width="3"/>
<rect x="668.50" y="1702.60" width="112.60" height="133.40" fill="none" stroke="#333" stroke-width="1.10"/>
<line x1="665.6" y1="1767.4" x2="460.1" y2="1709.3" stroke="#000" stroke-width="1.1"/>
<path d="M428.2,1699.9 L462.1,1702.6 L458.1,1716.0 Z" fill="#000"/>
<clipPath id="clip_e"><rect x="117.40" y="1551.90" width="288.40" height="269.00"/></clipPath>
<rect x="117.40" y="1551.90" width="288.40" height="269.00" fill="#fff"/>
<g clip-path="url(#clip_e)">
<path d="M-1177.1,771.1 L-1163.5,823.3 L-1146.1,844.6 L-1097.7,895.7 L-1049.3,941.6 L-1008.8,987.5 L-938.9,1019.4 L-874.3,1051.5 L-811.1,1096.1 L-677.1,1150.9 L-587.5,1191.1 L-512.7,1226.7 L-467.9,1248.2 L-407.9,1274.2 L-365.4,1290.0 L-245.8,1351.5 L-186.1,1375.3 L-126.4,1396.6 L-72.4,1415.5 L-36.5,1441.7 L2.1,1470.1 L53.1,1493.8 L117.4,1525.1 L222.0,1578.9 L291.7,1633.6 L327.0,1687.0 L382.2,1740.4 L386.6,1793.8" fill="none" stroke="#000000" stroke-width="2.50" stroke-linejoin="miter"/>
<path d="M-1167.6,757.3 L-1154.0,779.6 L-1159.4,812.7 L-1146.1,838.3 L-1111.0,863.9 L-1094.9,895.7 L-1060.0,925.6 L-1030.3,946.9 L-1006.2,974.7 L-930.9,1025.9 L-874.3,1053.5 L-807.2,1072.8 L-751.6,1109.5 L-677.1,1148.5 L-602.3,1184.0 L-527.5,1222.0 L-512.7,1231.5 L-467.9,1250.4 L-407.9,1269.5 L-363.1,1289.6 L-305.7,1318.4 L-239.9,1349.3 L-171.3,1377.7 L-126.4,1396.6 L-81.4,1420.3 L-21.7,1453.4 L38.0,1484.3 L82.8,1512.7 L116.1,1531.8 L146.9,1547.0 L181.8,1567.1 L213.3,1593.4 L263.2,1619.6 L289.4,1646.2 L326.2,1673.9 L333.2,1700.2 L350.7,1727.3 L364.7,1753.9 L372.2,1781.2 L374.7,1807.3" fill="none" stroke="#d00000" stroke-width="2.50" stroke-linejoin="miter"/>
<path d="M-1163.5,749.8 L-1147.4,778.6 L-1154.0,795.7 L-1148.6,804.2 L-1129.9,819.0 L-1136.6,831.8 L-1129.9,845.6 L-1104.3,857.4 L-1088.2,886.2 L-1092.3,898.0 L-1070.8,915.0 L-1035.7,940.6 L-1027.7,955.4 L-981.9,981.0 L-933.5,1007.6 L-928.1,1021.6 L-874.3,1045.0 L-855.6,1062.0 L-820.5,1074.8 L-787.5,1101.2 L-751.6,1117.8 L-677.1,1153.4 L-602.3,1184.0 L-512.7,1219.6 L-509.6,1236.2 L-467.9,1252.9 L-407.9,1276.6 L-365.4,1290.0 L-305.7,1320.9 L-239.9,1356.4 L-201.0,1370.6 L-141.3,1397.8 L-81.4,1425.0 L-36.5,1448.8 L23.1,1477.2 L68.0,1498.5 L91.8,1505.6 L112.8,1519.8 L127.6,1531.6 L146.9,1539.9 L179.1,1558.9 L198.4,1572.9 L222.9,1586.4 L232.5,1599.5 L250.9,1613.2 L270.7,1626.6 L278.4,1639.8 L284.2,1653.4 L303.4,1666.4 L316.5,1680.0 L330.2,1693.5 L342.8,1707.2 L354.7,1720.3 L360.7,1733.4 L377.8,1748.0 L369.9,1760.9 L373.4,1773.6 L384.5,1787.2 L392.2,1800.8 L389.7,1813.9" fill="none" stroke="#2222ff" stroke-width="2.50" stroke-linejoin="miter"/>
<path d="M218.8,1575.7h6.4v6.4h-6.4Z M288.5,1630.4h6.4v6.4h-6.4Z M323.8,1683.8h6.4v6.4h-6.4Z M379.0,1737.2h6.4v6.4h-6.4Z M383.4,1790.6h6.4v6.4h-6.4Z" fill="none" stroke="#000000" stroke-width="1.3"/>
<path d="M178.6,1563.9h6.4v6.4h-6.4Z M210.1,1590.2h6.4v6.4h-6.4Z M260.0,1616.4h6.4v6.4h-6.4Z M286.2,1643.0h6.4v6.4h-6.4Z M323.0,1670.7h6.4v6.4h-6.4Z M330.0,1697.0h6.4v6.4h-6.4Z M347.5,1724.1h6.4v6.4h-6.4Z M361.5,1750.7h6.4v6.4h-6.4Z M369.0,1778.0h6.4v6.4h-6.4Z M371.5,1804.1h6.4v6.4h-6.4Z" fill="none" stroke="#d00000" stroke-width="1.3"/>
<path d="M175.9,1555.7h6.4v6.4h-6.4Z M195.2,1569.7h6.4v6.4h-6.4Z M219.7,1583.2h6.4v6.4h-6.4Z M229.3,1596.3h6.4v6.4h-6.4Z M247.7,1610.0h6.4v6.4h-6.4Z M267.5,1623.4h6.4v6.4h-6.4Z M275.2,1636.6h6.4v6.4h-6.4Z M281.0,1650.2h6.4v6.4h-6.4Z M300.2,1663.2h6.4v6.4h-6.4Z M313.3,1676.8h6.4v6.4h-6.4Z M327.0,1690.3h6.4v6.4h-6.4Z M339.6,1704.0h6.4v6.4h-6.4Z M351.5,1717.1h6.4v6.4h-6.4Z M357.5,1730.2h6.4v6.4h-6.4Z M374.6,1744.8h6.4v6.4h-6.4Z M366.7,1757.7h6.4v6.4h-6.4Z M370.2,1770.4h6.4v6.4h-6.4Z M381.3,1784.0h6.4v6.4h-6.4Z M389.0,1797.6h6.4v6.4h-6.4Z M386.5,1810.7h6.4v6.4h-6.4Z" fill="none" stroke="#2222ff" stroke-width="1.3"/>
</g>
<path d="M117.40,1551.90 H405.80 V1820.90" fill="none" stroke="#777" stroke-width="1"/>
<line x1="131.79" y1="1820.90" x2="131.79" y2="1818.30" stroke="#000" stroke-width="0.90"/><line x1="146.22" y1="1820.90" x2="146.22" y2="1818.30" stroke="#000" stroke-width="0.90"/><line x1="160.65" y1="1820.90" x2="160.65" y2="1818.30" stroke="#000" stroke-width="0.90"/><line x1="175.07" y1="1820.90" x2="175.07" y2="1818.30" stroke="#000" stroke-width="0.90"/><line x1="189.50" y1="1820.90" x2="189.50" y2="1815.40" stroke="#000" stroke-width="1.50"/><line x1="203.93" y1="1820.90" x2="203.93" y2="1818.30" stroke="#000" stroke-width="0.90"/><line x1="218.35" y1="1820.90" x2="218.35" y2="1818.30" stroke="#000" stroke-width="0.90"/><line x1="232.78" y1="1820.90" x2="232.78" y2="1818.30" stroke="#000" stroke-width="0.90"/><line x1="247.21" y1="1820.90" x2="247.21" y2="1818.30" stroke="#000" stroke-width="0.90"/><line x1="261.63" y1="1820.90" x2="261.63" y2="1815.40" stroke="#000" stroke-width="1.50"/><line x1="276.06" y1="1820.90" x2="276.06" y2="1818.30" stroke="#000" stroke-width="0.90"/><line x1="290.48" y1="1820.90" x2="290.48" y2="1818.30" stroke="#000" stroke-width="0.90"/><line x1="304.91" y1="1820.90" x2="304.91" y2="1818.30" stroke="#000" stroke-width="0.90"/><line x1="319.34" y1="1820.90" x2="319.34" y2="1818.30" stroke="#000" stroke-width="0.90"/><line x1="333.76" y1="1820.90" x2="333.76" y2="1815.40" stroke="#000" stroke-width="1.50"/><line x1="348.19" y1="1820.90" x2="348.19" y2="1818.30" stroke="#000" stroke-width="0.90"/><line x1="362.62" y1="1820.90" x2="362.62" y2="1818.30" stroke="#000" stroke-width="0.90"/><line x1="377.04" y1="1820.90" x2="377.04" y2="1818.30" stroke="#000" stroke-width="0.90"/><line x1="391.47" y1="1820.90" x2="391.47" y2="1818.30" stroke="#000" stroke-width="0.90"/><line x1="117.40" y1="1815.52" x2="120.70" y2="1815.52" stroke="#000" stroke-width="0.90"/><line x1="117.40" y1="1810.14" x2="120.70" y2="1810.14" stroke="#000" stroke-width="0.90"/><line x1="117.40" y1="1804.76" x2="120.70" y2="1804.76" stroke="#000" stroke-width="0.90"/><line x1="117.40" y1="1799.38" x2="120.70" y2="1799.38" stroke="#000" stroke-width="0.90"/><line x1="117.40" y1="1794.01" x2="122.90" y2="1794.01" stroke="#000" stroke-width="1.50"/><line x1="117.40" y1="1788.63" x2="120.70" y2="1788.63" stroke="#000" stroke-width="0.90"/><line x1="117.40" y1="1783.25" x2="120.70" y2="1783.25" stroke="#000" stroke-width="0.90"/><line x1="117.40" y1="1777.87" x2="120.70" y2="1777.87" stroke="#000" stroke-width="0.90"/><line x1="117.40" y1="1772.49" x2="120.70" y2="1772.49" stroke="#000" stroke-width="0.90"/><line x1="117.40" y1="1767.11" x2="122.90" y2="1767.11" stroke="#000" stroke-width="1.50"/><line x1="117.40" y1="1761.73" x2="120.70" y2="1761.73" stroke="#000" stroke-width="0.90"/><line x1="117.40" y1="1756.35" x2="120.70" y2="1756.35" stroke="#000" stroke-width="0.90"/><line x1="117.40" y1="1750.97" x2="120.70" y2="1750.97" stroke="#000" stroke-width="0.90"/><line x1="117.40" y1="1745.59" x2="120.70" y2="1745.59" stroke="#000" stroke-width="0.90"/><line x1="117.40" y1="1740.22" x2="122.90" y2="1740.22" stroke="#000" stroke-width="1.50"/><line x1="117.40" y1="1734.84" x2="120.70" y2="1734.84" stroke="#000" stroke-width="0.90"/><line x1="117.40" y1="1729.46" x2="120.70" y2="1729.46" stroke="#000" stroke-width="0.90"/><line x1="117.40" y1="1724.08" x2="120.70" y2="1724.08" stroke="#000" stroke-width="0.90"/><line x1="117.40" y1="1718.70" x2="120.70" y2="1718.70" stroke="#000" stroke-width="0.90"/><line x1="117.40" y1="1713.32" x2="122.90" y2="1713.32" stroke="#000" stroke-width="1.50"/><line x1="117.40" y1="1707.94" x2="120.70" y2="1707.94" stroke="#000" stroke-width="0.90"/><line x1="117.40" y1="1702.56" x2="120.70" y2="1702.56" stroke="#000" stroke-width="0.90"/><line x1="117.40" y1="1697.18" x2="120.70" y2="1697.18" stroke="#000" stroke-width="0.90"/><line x1="117.40" y1="1691.80" x2="120.70" y2="1691.80" stroke="#000" stroke-width="0.90"/><line x1="117.40" y1="1686.43" x2="122.90" y2="1686.43" stroke="#000" stroke-width="1.50"/><line x1="117.40" y1="1681.05" x2="120.70" y2="1681.05" stroke="#000" stroke-width="0.90"/><line x1="117.40" y1="1675.67" x2="120.70" y2="1675.67" stroke="#000" stroke-width="0.90"/><line x1="117.40" y1="1670.29" x2="120.70" y2="1670.29" stroke="#000" stroke-width="0.90"/><line x1="117.40" y1="1664.91" x2="120.70" y2="1664.91" stroke="#000" stroke-width="0.90"/><line x1="117.40" y1="1659.53" x2="122.90" y2="1659.53" stroke="#000" stroke-width="1.50"/><line x1="117.40" y1="1654.15" x2="120.70" y2="1654.15" stroke="#000" stroke-width="0.90"/><line x1="117.40" y1="1648.77" x2="120.70" y2="1648.77" stroke="#000" stroke-width="0.90"/><line x1="117.40" y1="1643.39" x2="120.70" y2="1643.39" stroke="#000" stroke-width="0.90"/><line x1="117.40" y1="1638.01" x2="120.70" y2="1638.01" stroke="#000" stroke-width="0.90"/><line x1="117.40" y1="1632.64" x2="122.90" y2="1632.64" stroke="#000" stroke-width="1.50"/><line x1="117.40" y1="1627.26" x2="120.70" y2="1627.26" stroke="#000" stroke-width="0.90"/><line x1="117.40" y1="1621.88" x2="120.70" y2="1621.88" stroke="#000" stroke-width="0.90"/><line x1="117.40" y1="1616.50" x2="120.70" y2="1616.50" stroke="#000" stroke-width="0.90"/><line x1="117.40" y1="1611.12" x2="120.70" y2="1611.12" stroke="#000" stroke-width="0.90"/><line x1="117.40" y1="1605.74" x2="122.90" y2="1605.74" stroke="#000" stroke-width="1.50"/><line x1="117.40" y1="1600.36" x2="120.70" y2="1600.36" stroke="#000" stroke-width="0.90"/><line x1="117.40" y1="1594.98" x2="120.70" y2="1594.98" stroke="#000" stroke-width="0.90"/><line x1="117.40" y1="1589.60" x2="120.70" y2="1589.60" stroke="#000" stroke-width="0.90"/><line x1="117.40" y1="1584.22" x2="120.70" y2="1584.22" stroke="#000" stroke-width="0.90"/><line x1="117.40" y1="1578.85" x2="122.90" y2="1578.85" stroke="#000" stroke-width="1.50"/><line x1="117.40" y1="1573.47" x2="120.70" y2="1573.47" stroke="#000" stroke-width="0.90"/><line x1="117.40" y1="1568.09" x2="120.70" y2="1568.09" stroke="#000" stroke-width="0.90"/><line x1="117.40" y1="1562.71" x2="120.70" y2="1562.71" stroke="#000" stroke-width="0.90"/><line x1="117.40" y1="1557.33" x2="120.70" y2="1557.33" stroke="#000" stroke-width="0.90"/><line x1="117.40" y1="1551.95" x2="122.90" y2="1551.95" stroke="#000" stroke-width="1.50"/>
<path d="M117.40,1551.90 V1820.90 H405.80" fill="none" stroke="#000" stroke-width="1.6"/>
<text x="133.40" y="1865.80" font-size="36" text-anchor="middle">-0.06</text>
<text x="246.05" y="1865.80" font-size="36" text-anchor="middle">-0.04</text>
<text x="358.70" y="1865.80" font-size="36" text-anchor="middle">-0.02</text>
<text x="471.35" y="1865.80" font-size="36" text-anchor="middle">0</text>
<text x="584.00" y="1865.80" font-size="36" text-anchor="middle">0.02</text>
<text x="696.65" y="1865.80" font-size="36" text-anchor="middle">0.04</text>
<text x="809.30" y="1865.80" font-size="36" text-anchor="middle">0.06</text>
<text x="90.50" y="1317.70" font-size="36" text-anchor="end">1</text>
<text x="90.50" y="1450.17" font-size="36" text-anchor="end">0.5</text>
<text x="90.50" y="1582.65" font-size="36" text-anchor="end">0</text>
<text x="90.50" y="1715.12" font-size="36" text-anchor="end">-0.5</text>
<text x="90.50" y="1847.60" font-size="36" text-anchor="end">-1</text>
<text x="472.00" y="1904.90" font-size="45" font-style="italic">J</text>
<text x="495.70" y="1881.40" font-size="25.5" font-weight="bold">*</text>
<text x="492.60" y="1916.70" font-size="26.5"><tspan font-style="italic">x</tspan>,A</text>
<text transform="translate(30.90,1606.60) rotate(-90)" font-size="43.5" font-style="italic">y / H</text>
<text x="780.50" y="1388.20" font-size="42" text-anchor="end">(e)</text>
<line x1="480.5" y1="65.3" x2="655.5" y2="65.3" stroke="#000" stroke-width="2.6" stroke-linecap="round"/>
<text x="684.5" y="77.0" font-size="39">75 <tspan dx="-2.75" dy="5" font-size="47.4">×</tspan><tspan dx="-2.8" dy="-5">20</tspan></text>
<line x1="480.5" y1="123.8" x2="655.5" y2="123.8" stroke="#d00000" stroke-width="2.6" stroke-linecap="round"/>
<text x="684.5" y="135.2" font-size="39">150 <tspan dx="-2.75" dy="5" font-size="47.4">×</tspan><tspan dx="-2.8" dy="-5">40</tspan></text>
<line x1="480.5" y1="182.2" x2="655.5" y2="182.2" stroke="#2222ff" stroke-width="2.6" stroke-linecap="round"/>
<text x="684.5" y="193.5" font-size="39">300 <tspan dx="-2.75" dy="5" font-size="47.4">×</tspan><tspan dx="-2.8" dy="-5">80</tspan></text>
</svg></body></html>
